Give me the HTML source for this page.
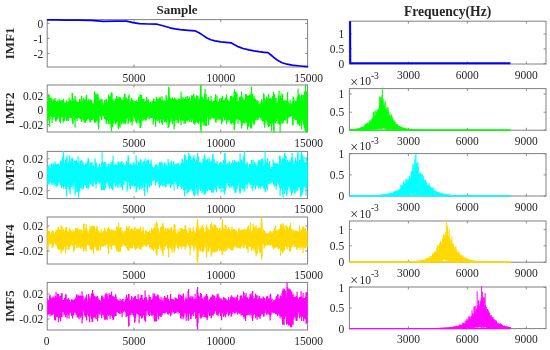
<!DOCTYPE html><html><head><meta charset="utf-8"><title>IMF</title><style>html,body{margin:0;padding:0;background:#fff}svg{display:block}text{font-family:"Liberation Serif","Times New Roman",serif;fill:#262626}</style></head><body>
<svg width="550" height="350" viewBox="0 0 550 350">
<rect width="550" height="350" fill="#fff"/>
<rect x="47.2" y="19.6" width="260.4" height="47.4" fill="none" stroke="#808080" stroke-width="1"/><path d="M134 67.0v-2.4M134 19.6v2.4M220.8 67.0v-2.4M220.8 19.6v2.4M47.2 23.4h2.4M307.6 23.4h-2.4M47.2 38.4h2.4M307.6 38.4h-2.4M47.2 53.4h2.4M307.6 53.4h-2.4" stroke="#808080" stroke-width="0.9" fill="none"/>
<clipPath id="cl0"><rect x="47.2" y="19.1" width="261" height="48.4"/></clipPath>
<path d="M47.6 19.8 L56 19.9 L65.4 20.2 L78 20.1 L90.9 20.3 L103.6 21.3 L115 21.1 L126.5 21.2 L133 22.6 L139.2 23.7 L148 24.0 L157 24.2 L163 25.8 L169.8 27.8 L175 28.9 L180.2 29.7 L188 30.4 L195.4 30.9 L199 32.8 L203.1 35.4 L206.5 37.8 L210.7 39.8 L215 40.9 L220.9 41.8 L226 42.3 L231 42.8 L234.5 44.8 L238.7 46.9 L243 48.5 L248.9 49.9 L254 50.9 L259 51.7 L264 52.3 L268 52.7 L271 55.0 L274.3 57.8 L278 60.6 L282 62.7 L287 64.2 L292.1 65.2 L300 66.0 L307.4 66.6" fill="none" stroke="#0000ff" stroke-width="1.7" stroke-linejoin="round" stroke-linecap="round"/>
 <text x="43.2" y="27.7" font-size="11.5" text-anchor="end">0</text>
 <text x="43.2" y="42.7" font-size="11.5" text-anchor="end">-1</text>
 <text x="43.2" y="57.7" font-size="11.5" text-anchor="end">-2</text>
<text x="134" y="81.5" font-size="11.5" text-anchor="middle">5000</text>
<text x="220.8" y="81.5" font-size="11.5" text-anchor="middle">10000</text>
<text x="308.6" y="81.5" font-size="11.5" text-anchor="middle">15000</text>
<text transform="translate(14.3,43.3) rotate(-90)" font-size="13" font-weight="bold" text-anchor="middle" fill="#000">IMF1</text>
<rect x="47.2" y="85.0" width="260.4" height="47" fill="none" stroke="#808080" stroke-width="1"/><path d="M134 132.0v-2.4M134 85.0v2.4M220.8 132.0v-2.4M220.8 85.0v2.4M47.2 96h2.4M307.6 96h-2.4M47.2 110h2.4M307.6 110h-2.4M47.2 124.4h2.4M307.6 124.4h-2.4" stroke="#808080" stroke-width="0.9" fill="none"/>
<clipPath id="cl1"><rect x="47.2" y="84.5" width="261" height="48"/></clipPath>
<path d="M47.6 102.22V122.56M48.1 98.8V121M48.6 93.91V119.28M49.1 94.93V119.05M49.6 100.56V126.75M50.1 97.66V118.96M50.6 97.47V115.67M51.1 97.47V115.73M51.6 103.28V116.73M52.1 99.06V123.03M52.6 102.15V119.92M53.1 103.52V117.82M53.6 99.6V116.41M54.1 99.6V116.99M54.6 103.46V116.32M55.1 97.79V116.57M55.6 100.95V121.2M56.1 101.6V121.48M56.6 106.1V119.87M57.1 101.65V115.78M57.6 100.59V119.05M58.1 102.56V113.73M58.6 102.56V117.17M59.1 98.72V116.44M59.6 100.51V122.03M60.1 105V117.21M60.6 100.43V123.19M61.1 104.17V117.62M61.6 100.62V116.63M62.1 100.33V117.06M62.6 101.65V117.56M63.1 99.81V122.8M63.6 99.12V121.35M64.1 102.44V120.99M64.6 102.57V120.6M65.1 102.79V115.57M65.6 103.82V116.76M66.1 101.62V118.17M66.6 100.44V120.89M67.1 104.76V120.7M67.6 103.91V114.58M68.1 101.38V119.25M68.6 103.3V121.1M69.1 97.54V115.44M69.6 102.4V117.71M70.1 100.45V117.86M70.6 99.89V117.46M71.1 103.78V118.2M71.6 102.37V114.89M72.1 93.07V119.63M72.6 93.07V123.73M73.1 98.66V123.73M73.6 103.39V115.78M74.1 100.86V113.78M74.6 100.4V120.1M75.1 96.01V127.73M75.6 99.47V117.41M76.1 100.38V118.37M76.6 102.64V118.88M77.1 101.85V120.97M77.6 101.44V118.07M78.1 102.03V116.47M78.6 102.09V117.9M79.1 103.35V116.44M79.6 98.87V117.78M80.1 104.99V118.92M80.6 101.19V119.2M81.1 98.96V119.35M81.6 95.74V122.05M82.1 101.48V118.78M82.6 103.34V117.8M83.1 100.24V120.23M83.6 97.78V120.45M84.1 101.45V122.79M84.6 99.49V121.58M85.1 101.48V117.67M85.6 99.35V123.01M86.1 96.25V120.96M86.6 94.9V120.33M87.1 102.28V115.7M87.6 101.38V119.15M88.1 100.45V118.72M88.6 99.21V118.88M89.1 99.47V118.09M89.6 103.48V120.72M90.1 101.27V122.6M90.6 99.28V122.6M91.1 100.7V117.91M91.6 99.93V119.91M92.1 102.71V119.93M92.6 104.09V118.4M93.1 103.42V120.18M93.6 103.95V117.5M94.1 102.44V116.76M94.6 91.58V122.69M95.1 93.81V120.24M95.6 96.47V122.44M96.1 93.97V120.99M96.6 94.73V117.76M97.1 100.18V120.86M97.6 93.87V119.55M98.1 94.58V125.7M98.6 97.4V129.25M99.1 98.8V122.72M99.6 104.7V115.72M100.1 100.92V115.82M100.6 99.42V116.29M101.1 103.27V118.9M101.6 99.08V120.02M102.1 98.98V118.43M102.6 102.65V114.76M103.1 103V115.29M103.6 105.71V116.53M104.1 105.12V115.69M104.6 100.12V118.89M105.1 102.18V119.11M105.6 102.69V119.73M106.1 98.89V123.77M106.6 99.57V123.77M107.1 101.75V120.11M107.6 101.9V119.56M108.1 101.8V120.57M108.6 94.63V124.27M109.1 97.39V120.19M109.6 97.28V118.66M110.1 96.22V123.93M110.6 97.32V122.56M111.1 93.42V127.89M111.6 92.36V131.23M112.1 93.18V122.47M112.6 99.15V127.3M113.1 100.89V124.48M113.6 101.61V122.58M114.1 101.67V116.27M114.6 100.67V119.82M115.1 98.47V124.39M115.6 99.61V123.86M116.1 103.61V123.11M116.6 95.98V122.12M117.1 96.59V119.79M117.6 102.45V121.47M118.1 99.33V127.7M118.6 97.24V128.97M119.1 97.24V126.11M119.6 97.2V124.59M120.1 98.31V127.78M120.6 97.26V121.51M121.1 99.34V121.6M121.6 101.95V124.53M122.1 100.08V121.27M122.6 101.47V119.5M123.1 96.88V123.16M123.6 99.43V123.86M124.1 99.69V123.86M124.6 94.04V121.5M125.1 93.69V122.84M125.6 97.39V123.82M126.1 102.9V121.67M126.6 98.11V118.89M127.1 100.41V117.81M127.6 99.28V118.31M128.1 100.12V124.18M128.6 95.88V122.03M129.1 94.35V121.17M129.6 102.48V118.24M130.1 103.27V116.98M130.6 101.33V122.43M131.1 99.7V120.99M131.6 97.77V121.59M132.1 99.83V125.45M132.6 99.94V119.81M133.1 100.75V121.36M133.6 100.75V114.33M134.1 100.64V115.41M134.6 102.94V117.83M135.1 102.48V118.68M135.6 101.01V121.02M136.1 102.77V122.67M136.6 100.17V123.27M137.1 101.77V123.44M137.6 101.41V120.29M138.1 101.71V116.19M138.6 96.64V118.32M139.1 103.23V123.1M139.6 99.96V123.24M140.1 93.69V128.04M140.6 95.33V128.13M141.1 97.7V126.23M141.6 95.01V119.28M142.1 99.39V121.29M142.6 99.11V116.15M143.1 102.27V118.91M143.6 98.69V120.38M144.1 99.02V117.01M144.6 102.04V119.42M145.1 104.51V116.93M145.6 101.49V120.73M146.1 100.66V119.69M146.6 97.11V119.73M147.1 102.04V118.32M147.6 99.97V116.65M148.1 102.04V116.04M148.6 99.43V116.92M149.1 105.17V119.42M149.6 102.68V119.27M150.1 104.01V115.11M150.6 101.7V117.77M151.1 106.44V117.93M151.6 104.07V117.39M152.1 100.81V117.92M152.6 103.08V118.08M153.1 101.31V124.6M153.6 98.62V121.53M154.1 98.86V117.94M154.6 101.97V119.03M155.1 101.13V118.96M155.6 101.78V126.69M156.1 100.99V118.82M156.6 96.75V119.28M157.1 99.21V120.65M157.6 99.11V121.2M158.1 101.82V121.2M158.6 99.18V117.45M159.1 97.94V119.74M159.6 97.94V123.22M160.1 96.39V119.79M160.6 98.77V119.44M161.1 100.43V118.64M161.6 101.17V123.05M162.1 96.31V120.38M162.6 101.36V124.82M163.1 99.86V114.62M163.6 103.45V118.16M164.1 101.88V121.49M164.6 100.32V121.98M165.1 100.65V121.57M165.6 101.74V120.99M166.1 95V123.2M166.6 96.14V122.01M167.1 100.32V116.15M167.6 101.24V117.98M168.1 100.79V128.1M168.6 86.83V126.32M169.1 88.17V126.64M169.6 96.63V122.73M170.1 99.31V121.96M170.6 98.34V120.6M171.1 100.79V121.54M171.6 99.16V117.83M172.1 97.55V119.11M172.6 97.55V123.63M173.1 99.07V115.99M173.6 99.07V120.65M174.1 100.37V129.29M174.6 97.63V126.01M175.1 99.43V117.56M175.6 98.6V120.3M176.1 99.19V120M176.6 100.22V117.58M177.1 104.08V123.04M177.6 99.98V120.17M178.1 98.25V120.17M178.6 98.83V123.21M179.1 98.93V115.85M179.6 98.96V117.86M180.1 99.62V119.61M180.6 101.94V120.72M181.1 91.68V125.24M181.6 96.53V117.97M182.1 97.03V120.46M182.6 104.76V116.48M183.1 99.17V120.71M183.6 97.45V120.79M184.1 101.09V123.9M184.6 98.91V121.41M185.1 99.28V119.66M185.6 96.9V123.46M186.1 96.9V117.05M186.6 99.23V120.69M187.1 99.23V118.93M187.6 95.96V121.57M188.1 98.87V118.47M188.6 98.96V120.05M189.1 101.21V119.73M189.6 96.54V121.7M190.1 101.39V117.2M190.6 101.03V115.01M191.1 102.9V121.98M191.6 95.23V121.98M192.1 100.29V120.49M192.6 96.06V119.44M193.1 95.24V114.7M193.6 93.87V123.62M194.1 96.27V123.62M194.6 97.64V124.78M195.1 100.24V123.45M195.6 98.82V120.29M196.1 98.12V122.48M196.6 95.16V121.86M197.1 98.19V119.71M197.6 95.96V122.86M198.1 96.52V122.83M198.6 100.79V123.76M199.1 102.81V122.66M199.6 98.67V118.9M200.1 94.89V121.23M200.6 85.37V129.58M201.1 84.44V132.72M201.6 95.9V122.53M202.1 96.68V118.94M202.6 97.62V122.01M203.1 98.62V125.69M203.6 100.38V122.27M204.1 98.81V122.41M204.6 93.59V124.61M205.1 88.99V126.03M205.6 94.36V125.45M206.1 94.36V123.91M206.6 99.2V126.02M207.1 99.2V118.54M207.6 99.35V116.09M208.1 101.78V114.42M208.6 97.11V124.93M209.1 100.64V117.26M209.6 104.58V117.81M210.1 101.03V120.11M210.6 103.31V115.58M211.1 95.73V118.98M211.6 100.36V116.14M212.1 101.85V116.44M212.6 104.9V118.08M213.1 102.26V117.96M213.6 100.93V118.49M214.1 101.04V118.12M214.6 105.44V118.73M215.1 98.12V118.09M215.6 94.2V122.13M216.1 100.48V122.64M216.6 101.89V120.22M217.1 95.38V118.07M217.6 103.06V118.33M218.1 102.05V120.62M218.6 104.58V117.71M219.1 100.88V118.17M219.6 98.88V119.11M220.1 97.68V119.99M220.6 105.15V119.06M221.1 101.03V118.22M221.6 97.99V124.16M222.1 102.1V120.45M222.6 95.7V122.27M223.1 99.85V116.65M223.6 100.48V117.08M224.1 101.15V117.55M224.6 99.75V120.56M225.1 101.57V117.88M225.6 97.81V116.33M226.1 98.68V119.7M226.6 94.87V124.19M227.1 99.09V120.69M227.6 100.05V119.35M228.1 100.14V121.79M228.6 101V115.63M229.1 101.93V119.9M229.6 102.64V117.4M230.1 98.82V119.58M230.6 96.2V123.55M231.1 95.68V124.32M231.6 95.68V123.08M232.1 99.08V120.01M232.6 97.93V122.26M233.1 97.19V122.94M233.6 96.96V123.44M234.1 91.66V130.32M234.6 89.13V128.73M235.1 91.99V124.16M235.6 96.86V120.71M236.1 92.08V118.39M236.6 97.62V119.6M237.1 93.46V118.89M237.6 101.31V115M238.1 100.99V123.91M238.6 103.17V119.7M239.1 100.48V117.84M239.6 96.93V120.05M240.1 99.16V118.55M240.6 96.41V120.69M241.1 96.41V122.41M241.6 91.53V128.53M242.1 98.05V125.57M242.6 97.58V118.81M243.1 97.58V123.18M243.6 100.46V117.37M244.1 99.76V122.74M244.6 101.83V123.87M245.1 99.73V121.18M245.6 94.07V121.18M246.1 93.92V123.09M246.6 95.33V121.16M247.1 95.71V122.01M247.6 95.49V129.87M248.1 95.73V126.81M248.6 98.66V118.39M249.1 95.17V126.52M249.6 94.79V121.56M250.1 94.68V122.41M250.6 98.38V128.19M251.1 92.18V128.38M251.6 86.8V128.38M252.1 94.01V118.51M252.6 94.01V120.63M253.1 97.67V123.69M253.6 98.17V123.36M254.1 96.09V125.11M254.6 98.46V123.61M255.1 98.71V119.33M255.6 99.02V120.16M256.1 100.04V118.62M256.6 102.14V117.26M257.1 101.82V119.89M257.6 100.1V119.89M258.1 101.06V119.74M258.6 104.22V117.89M259.1 103.83V116.94M259.6 104.5V116.94M260.1 105.96V117.09M260.6 103.16V118.32M261.1 101.53V120.02M261.6 99.24V117.95M262.1 100.13V117.77M262.6 102.65V121.57M263.1 104.79V121.58M263.6 93.36V120.81M264.1 94.27V124.29M264.6 98.62V127.76M265.1 98.98V123.65M265.6 100.67V116.92M266.1 103.75V119.95M266.6 96.51V119.75M267.1 98.54V124.79M267.6 98.43V122.41M268.1 100.02V118.88M268.6 93.97V126.98M269.1 97.84V120.96M269.6 100.42V125.9M270.1 98.69V122.73M270.6 98.29V123.72M271.1 97.4V122.37M271.6 99.43V130.88M272.1 99.86V121.38M272.6 95.94V122.96M273.1 98.63V123.54M273.6 91.78V130.81M274.1 97.8V135.31M274.6 94.22V119.15M275.1 102.53V121.41M275.6 97.68V123.39M276.1 97.91V118.98M276.6 102.92V121M277.1 103.18V118.86M277.6 102.6V117.11M278.1 101.07V123.96M278.6 95.38V123.96M279.1 90.81V119.36M279.6 98.75V124.59M280.1 99.73V132.94M280.6 95.92V124.52M281.1 93.27V121.38M281.6 99.94V120.96M282.1 97.89V123.01M282.6 94.19V123.56M283.1 100.61V123.8M283.6 102.02V120.84M284.1 100.41V119.68M284.6 101.3V119.91M285.1 100.32V116.21M285.6 105.67V120.41M286.1 100.34V118.12M286.6 103.19V118.43M287.1 100.17V123.68M287.6 92.06V123.23M288.1 101.23V118.07M288.6 102.57V116.57M289.1 104.62V116.96M289.6 104.84V116.52M290.1 100.06V117.31M290.6 103.85V116.33M291.1 103.35V115.89M291.6 103.26V115.6M292.1 103.15V116.69M292.6 102.03V125.36M293.1 96.6V125.36M293.6 98.12V118.52M294.1 99.7V119.48M294.6 102.95V118.21M295.1 102.95V118.21M295.6 100.74V120.03M296.1 101.14V118.41M296.6 101.14V120.49M297.1 97.11V119.06M297.6 96.67V124.51M298.1 88.65V122.86M298.6 99.82V124M299.1 93.95V122.72M299.6 99.79V125.88M300.1 95.86V121.04M300.6 100.42V119.39M301.1 100.3V125.24M301.6 94.4V129.4M302.1 98.82V120.05M302.6 100.22V117.79M303.1 94.9V121.49M303.6 100.02V124.85M304.1 94.79V127.23M304.6 91.55V128.09M305.1 94.56V131.34M305.6 84V122.52M306.1 94.03V132.38M306.6 91.14V134.77M307.1 97.89V130.94" fill="none" stroke="#00ff00" stroke-width="1.2" clip-path="url(#cl1)"/>
 <text x="43.2" y="100.3" font-size="11.5" text-anchor="end">0.02</text>
 <text x="43.2" y="114.3" font-size="11.5" text-anchor="end">0</text>
 <text x="43.2" y="128.7" font-size="11.5" text-anchor="end">-0.02</text>
<text x="134" y="146.5" font-size="11.5" text-anchor="middle">5000</text>
<text x="220.8" y="146.5" font-size="11.5" text-anchor="middle">10000</text>
<text x="308.6" y="146.5" font-size="11.5" text-anchor="middle">15000</text>
<text transform="translate(14.3,108.5) rotate(-90)" font-size="13" font-weight="bold" text-anchor="middle" fill="#000">IMF2</text>
<rect x="47.2" y="151.4" width="260.4" height="47.2" fill="none" stroke="#808080" stroke-width="1"/><path d="M134 198.6v-2.4M134 151.4v2.4M220.8 198.6v-2.4M220.8 151.4v2.4M47.2 158.8h2.4M307.6 158.8h-2.4M47.2 174.8h2.4M307.6 174.8h-2.4M47.2 190.6h2.4M307.6 190.6h-2.4" stroke="#808080" stroke-width="0.9" fill="none"/>
<clipPath id="cl2"><rect x="47.2" y="150.9" width="261" height="48.2"/></clipPath>
<path d="M47.6 167.93V184.22M48.1 165.45V181.13M48.6 165.38V184.49M49.1 164.79V184.61M49.6 167.5V182.46M50.1 169.56V181.31M50.6 167.82V181.4M51.1 164.08V183.34M51.6 164.08V183.42M52.1 163.18V185.05M52.6 166.33V182.88M53.1 165.82V180.38M53.6 163.2V183.46M54.1 164.67V185.27M54.6 165.31V182.74M55.1 161.57V184.35M55.6 164.33V180.43M56.1 164.16V187.53M56.6 164.33V183.3M57.1 165.26V185.5M57.6 163.7V186.06M58.1 164.06V183.83M58.6 164.06V183.14M59.1 165.99V182.35M59.6 170.16V180.56M60.1 164.95V184.7M60.6 160.85V184.06M61.1 161.22V185.49M61.6 162.98V188.34M62.1 159.64V185.9M62.6 157.12V186.48M63.1 156.75V186.45M63.6 147.33V188.7M64.1 163.2V186.17M64.6 168.01V182.96M65.1 163.92V185.35M65.6 160.01V188.92M66.1 157.76V188.47M66.6 161.43V196.5M67.1 155.39V185.78M67.6 166.19V183.03M68.1 162.45V187.02M68.6 166.51V181.56M69.1 160.19V189.49M69.6 155.45V191.27M70.1 160.14V194.28M70.6 161.57V187.35M71.1 162.25V187.42M71.6 158.22V186.65M72.1 161.53V184.48M72.6 157.79V183.06M73.1 162.88V189.56M73.6 166.66V184.95M74.1 160.55V182.76M74.6 161.05V182.82M75.1 161.05V195.56M75.6 161V189.1M76.1 162.02V192.18M76.6 160.18V187.31M77.1 161.62V186.8M77.6 165.25V192.05M78.1 156.12V192.05M78.6 162.84V197.95M79.1 164.81V190.34M79.6 166.71V191.39M80.1 160.71V187.42M80.6 164.38V186.33M81.1 160.46V188.36M81.6 160.18V184.77M82.1 160.86V189.43M82.6 171.05V181.12M83.1 162.66V184.12M83.6 165.84V189.35M84.1 165.2V184.95M84.6 166.41V183.19M85.1 165.13V185.82M85.6 163.45V185.18M86.1 164.3V181.91M86.6 167.57V187.98M87.1 161.72V187.83M87.6 165.42V186.79M88.1 157.91V189.24M88.6 158.95V187.54M89.1 161.71V187.32M89.6 167.93V182.37M90.1 167.49V182.43M90.6 162.61V184.59M91.1 163.18V183.36M91.6 163.72V183.11M92.1 162.02V186.17M92.6 166.69V186.17M93.1 165.67V186.76M93.6 165.57V182.65M94.1 169V181.4M94.6 168V181.47M95.1 158.32V181.87M95.6 161.43V184.28M96.1 162.59V188.29M96.6 164.29V184M97.1 166.1V180.98M97.6 168.29V182.49M98.1 169.6V181.84M98.6 167.28V181.48M99.1 165.4V183.96M99.6 163.44V182.3M100.1 166.72V181.37M100.6 167.07V183.23M101.1 167.37V187.79M101.6 162.69V190.16M102.1 152.13V190.16M102.6 161.08V188.29M103.1 166.01V187.36M103.6 163.02V190.36M104.1 166.68V190.35M104.6 162.03V190.35M105.1 162.19V187.71M105.6 162.94V188.32M106.1 164.64V182.27M106.6 170.37V183.33M107.1 166.97V181.41M107.6 168.61V182.28M108.1 164.09V184.47M108.6 163.49V186.25M109.1 168.51V186.85M109.6 166.17V188.83M110.1 163.95V186.34M110.6 165.98V184.68M111.1 161.9V187.42M111.6 162.92V188.8M112.1 166.23V188.8M112.6 160.66V190.13M113.1 155.81V189.2M113.6 164.68V183.23M114.1 164.97V182.9M114.6 167.97V182.89M115.1 163.53V184.34M115.6 165.72V186.95M116.1 164.63V182.87M116.6 164.95V185.27M117.1 166.46V183.7M117.6 164.73V186.41M118.1 161.47V188.27M118.6 161.47V183.71M119.1 162.3V183.42M119.6 163.48V182.44M120.1 164.46V187.25M120.6 162.85V180.23M121.1 162.26V182.89M121.6 161.17V187.1M122.1 161.57V187.23M122.6 163.9V190.14M123.1 164.57V185.08M123.6 163.23V182.35M124.1 164.95V184.78M124.6 164.95V181.23M125.1 166.27V180.61M125.6 167.45V181.26M126.1 164.16V181.37M126.6 160.79V180.98M127.1 164.94V191.62M127.6 162.72V189.18M128.1 155.05V182.65M128.6 157.21V182.42M129.1 167.24V181.06M129.6 164.86V185.83M130.1 166.65V188.78M130.6 163.21V189.24M131.1 164.56V186.26M131.6 165.11V184.36M132.1 165.78V183.13M132.6 165.44V186.04M133.1 163.05V185.21M133.6 164.75V185.21M134.1 162.07V187.22M134.6 164.62V186.46M135.1 164.35V186.07M135.6 164.23V186.38M136.1 155.21V192.51M136.6 159.96V191.79M137.1 165.66V183.76M137.6 166.65V187.17M138.1 165.07V184.28M138.6 161.54V182.96M139.1 162.19V187.75M139.6 163.18V189.74M140.1 163.77V184.01M140.6 159.17V187.5M141.1 159.17V189.2M141.6 168.13V183.47M142.1 164.65V185.42M142.6 162.84V187.95M143.1 161.14V183.13M143.6 169.37V182.75M144.1 162.24V191.32M144.6 161.08V196.06M145.1 158.75V187.44M145.6 163.27V183.92M146.1 167.33V182.03M146.6 161.73V183.31M147.1 160.34V189.55M147.6 160.34V192.58M148.1 159.54V186.6M148.6 159.54V185.78M149.1 163.63V183.67M149.6 165.98V187.16M150.1 163.92V183.12M150.6 163.15V181.98M151.1 159.6V185.23M151.6 163.68V185.89M152.1 166.81V180.61M152.6 166.82V180.88M153.1 168.66V180.28M153.6 167.46V180.44M154.1 167.44V179.39M154.6 167.3V179.05M155.1 165.22V180.07M155.6 164.98V185.38M156.1 163.38V182.99M156.6 165.01V181.34M157.1 168.6V181.34M157.6 166.12V181.83M158.1 168.7V180.79M158.6 168.91V183.66M159.1 164.8V186.6M159.6 162.09V187.72M160.1 164.52V185.63M160.6 162.97V184.53M161.1 161.47V184.77M161.6 167.35V184.55M162.1 162.54V186.27M162.6 164.16V186.27M163.1 166.29V182.14M163.6 166.92V179.73M164.1 166.77V186.17M164.6 162.47V181.82M165.1 165.24V185.39M165.6 168.06V187.32M166.1 163.29V187.28M166.6 166V182.78M167.1 166.8V183.71M167.6 167.28V181.96M168.1 159V184.54M168.6 161.89V184.11M169.1 163.52V183.25M169.6 168.25V179.53M170.1 165.68V186.38M170.6 165.65V188.07M171.1 160.82V186.26M171.6 161.87V184.08M172.1 168.22V184.83M172.6 165.34V182.05M173.1 164.98V184.37M173.6 161.26V181.86M174.1 163.67V190.51M174.6 165.38V181.05M175.1 168.22V181.7M175.6 164.59V181.61M176.1 163.37V184.86M176.6 165.49V184.18M177.1 164.47V183.8M177.6 163.51V189.14M178.1 162.88V186.09M178.6 165.25V186.09M179.1 167.95V180.97M179.6 165.65V184.28M180.1 163.74V187.25M180.6 164.82V181.87M181.1 165.57V182.27M181.6 163.02V189.08M182.1 158.45V187.72M182.6 160.03V183.46M183.1 162.98V187.35M183.6 162.98V189.89M184.1 161.6V189.89M184.6 154.35V196.17M185.1 159.36V189.72M185.6 155.44V190.2M186.1 160.93V188.58M186.6 160.06V187.92M187.1 163.06V193.75M187.6 163.61V192.93M188.1 159.48V189.18M188.6 152.7V191.93M189.1 154.46V191.16M189.6 163.32V184.47M190.1 155.59V189.38M190.6 155.59V189.83M191.1 165.65V184.39M191.6 160.27V187.87M192.1 158.66V191.47M192.6 162.3V191.47M193.1 157.52V189.39M193.6 161.82V195.26M194.1 155.13V191.06M194.6 158.56V196.32M195.1 161.95V194.34M195.6 168.54V181.72M196.1 160.89V183.75M196.6 159.92V189.46M197.1 158.11V193.65M197.6 152.85V187.88M198.1 156.81V195.74M198.6 156.47V189.66M199.1 163.82V189.36M199.6 162.03V181.27M200.1 163.32V185.24M200.6 162.57V191M201.1 164.9V185.44M201.6 164.26V188.89M202.1 162.32V192.98M202.6 162.2V191.38M203.1 159.01V191.38M203.6 159.27V183.54M204.1 156.34V194.67M204.6 154.26V194.67M205.1 158.08V189.9M205.6 161.76V193.8M206.1 160.64V190.33M206.6 160.04V184.96M207.1 162.46V191.44M207.6 158.85V191.25M208.1 164.32V187.11M208.6 161.19V189.23M209.1 157.15V189.23M209.6 162.14V190.2M210.1 160.68V187.61M210.6 163.16V190.11M211.1 162.84V189.28M211.6 161.81V192.78M212.1 159.46V191.87M212.6 153.82V192.59M213.1 154.83V190.35M213.6 163.9V192.81M214.1 158.74V186.71M214.6 162.67V184.51M215.1 163.3V190.11M215.6 165.08V188.37M216.1 162.61V188.52M216.6 165.66V192.16M217.1 160.91V186.41M217.6 164.28V180.78M218.1 164.28V184.24M218.6 166.33V186.44M219.1 168.53V188.43M219.6 162.65V182.88M220.1 165.35V189.01M220.6 161.77V186.9M221.1 162.55V192.61M221.6 163.62V186.15M222.1 163.19V185.17M222.6 165.6V187.89M223.1 164.67V192.4M223.6 159.88V184.12M224.1 159.62V188.5M224.6 153.17V194.59M225.1 153.17V191.1M225.6 159.8V189.63M226.1 167.3V187.78M226.6 164.53V180.54M227.1 164.02V183.42M227.6 165.27V180.04M228.1 162.78V183.95M228.6 162.52V186.27M229.1 161.14V186.27M229.6 162.44V187.75M230.1 167.85V187.75M230.6 164.85V181.73M231.1 167.65V183M231.6 163V187.41M232.1 161.48V186.57M232.6 160.29V185.21M233.1 164.8V182.45M233.6 162.99V187.13M234.1 164.12V190.49M234.6 159.87V190.49M235.1 160.9V192.99M235.6 165.77V187.94M236.1 161.9V192.42M236.6 165.38V182.35M237.1 162.29V188.83M237.6 167.79V185.77M238.1 161.12V184.62M238.6 167.01V183.01M239.1 162.14V183.18M239.6 162.14V192.55M240.1 153.29V193.78M240.6 159.79V192.23M241.1 159.78V187.61M241.6 159.6V187.2M242.1 164.07V184.02M242.6 165.97V189.15M243.1 160.3V188.54M243.6 156.78V186.02M244.1 154.8V191.87M244.6 150.19V190.59M245.1 166.78V189.28M245.6 164.33V181.84M246.1 163.83V183.41M246.6 164.41V185.4M247.1 161.76V188.82M247.6 164.33V184.02M248.1 171.58V181.99M248.6 167.88V181.19M249.1 166.77V183.37M249.6 164.1V183.49M250.1 163.77V184.18M250.6 163.66V183.69M251.1 167.86V188.11M251.6 160.04V185.11M252.1 163.88V184.05M252.6 165.67V190.86M253.1 159.5V184.93M253.6 164.4V186.16M254.1 167.52V183.93M254.6 161.88V183.71M255.1 162.92V187.96M255.6 165.79V189.43M256.1 164.37V180.94M256.6 166.54V185.65M257.1 166.54V185.09M257.6 165.45V185.59M258.1 160.59V186.63M258.6 160.29V188.14M259.1 163.35V188.45M259.6 160.6V186.27M260.1 159.81V185.9M260.6 161.44V188.48M261.1 161.25V185.84M261.6 158.68V186.49M262.1 164.06V186.3M262.6 158.8V185.68M263.1 161.29V185.61M263.6 165.71V187.78M264.1 167.52V188.95M264.6 164.04V184.12M265.1 151.36V191.37M265.6 159.64V192.19M266.1 162.15V188M266.6 163.17V187.64M267.1 162.11V188.39M267.6 157.97V190.22M268.1 163.65V183.77M268.6 167.82V182.88M269.1 164.88V183.89M269.6 161.34V182.54M270.1 169.02V184.28M270.6 168.97V181.17M271.1 168.98V180.4M271.6 166.83V183.37M272.1 170.49V181.8M272.6 166.57V181.99M273.1 159.49V180.3M273.6 162.58V184.35M274.1 162.84V185.7M274.6 165.21V186.58M275.1 162.76V185.14M275.6 163.42V185.26M276.1 164.42V189.38M276.6 163.3V186.48M277.1 163.32V179.95M277.6 163.85V182.3M278.1 164.8V183.79M278.6 165.54V184.49M279.1 164.24V184.55M279.6 155.73V187M280.1 155.38V195.64M280.6 158.82V190.42M281.1 160.73V185.79M281.6 163.14V188.22M282.1 163.6V188.53M282.6 158.51V194.35M283.1 157.53V200.1M283.6 158.42V186.37M284.1 161.15V186.29M284.6 152.73V193.83M285.1 154.76V189.58M285.6 156.68V186.12M286.1 156.24V190.16M286.6 162.87V195.69M287.1 165.63V193.93M287.6 159.9V189.95M288.1 162.92V186.35M288.6 162.12V186.63M289.1 162.99V186.86M289.6 161.28V187.77M290.1 159.46V191.95M290.6 161.33V187.27M291.1 163.84V187.74M291.6 157.65V195.52M292.1 152.66V192.91M292.6 156.95V192.91M293.1 164.7V187.94M293.6 166.05V189.67M294.1 161.46V188.65M294.6 164.61V193.51M295.1 163.99V193.62M295.6 157.66V190.31M296.1 164.07V191.3M296.6 160.78V189.4M297.1 163.84V188.64M297.6 153.55V190.9M298.1 151.32V188.03M298.6 162.89V186.1M299.1 164.26V186.92M299.6 159.92V187.74M300.1 159.92V187.09M300.6 161.09V196.79M301.1 153.03V196.79M301.6 151.89V189.11M302.1 155.86V194.85M302.6 154.91V192.41M303.1 160.85V190.56M303.6 159.74V186.33M304.1 156.46V187.32M304.6 162.39V185.76M305.1 162.79V185.36M305.6 165.11V188.44M306.1 162.05V195.49M306.6 156.77V187.6M307.1 160.43V187.6" fill="none" stroke="#00ffff" stroke-width="1.2" clip-path="url(#cl2)"/>
 <text x="43.2" y="163.1" font-size="11.5" text-anchor="end">0.02</text>
 <text x="43.2" y="179.1" font-size="11.5" text-anchor="end">0</text>
 <text x="43.2" y="194.9" font-size="11.5" text-anchor="end">-0.02</text>
<text x="134" y="213.1" font-size="11.5" text-anchor="middle">5000</text>
<text x="220.8" y="213.1" font-size="11.5" text-anchor="middle">10000</text>
<text x="308.6" y="213.1" font-size="11.5" text-anchor="middle">15000</text>
<text transform="translate(14.3,175) rotate(-90)" font-size="13" font-weight="bold" text-anchor="middle" fill="#000">IMF3</text>
<rect x="47.2" y="217.0" width="260.4" height="47" fill="none" stroke="#808080" stroke-width="1"/><path d="M134 264.0v-2.4M134 217.0v2.4M220.8 264.0v-2.4M220.8 217.0v2.4M47.2 226h2.4M307.6 226h-2.4M47.2 238.6h2.4M307.6 238.6h-2.4M47.2 251h2.4M307.6 251h-2.4" stroke="#808080" stroke-width="0.9" fill="none"/>
<clipPath id="cl3"><rect x="47.2" y="216.5" width="261" height="48"/></clipPath>
<path d="M47.6 227.98V249.4M48.1 231.24V250.06M48.6 231.02V245.55M49.1 233.67V244.18M49.6 230.78V241.77M50.1 235.47V241.39M50.6 234.59V244.37M51.1 234.03V242.1M51.6 232.34V243.66M52.1 230.66V247.87M52.6 232.94V243.69M53.1 230.36V247.49M53.6 233.41V244.78M54.1 234.5V241.43M54.6 234.88V242.49M55.1 232.68V242.19M55.6 231.97V243.95M56.1 229.9V245.88M56.6 231.79V244.66M57.1 229.71V244.75M57.6 231.44V248.04M58.1 227.56V249.28M58.6 227V248.5M59.1 229.8V250.08M59.6 230.58V249.8M60.1 229.42V248.94M60.6 230.47V247.26M61.1 224.94V253.67M61.6 231.42V251.49M62.1 226.79V251.49M62.6 229.63V250.15M63.1 231.16V248.76M63.6 228.94V249.67M64.1 230.95V246.97M64.6 230.95V245M65.1 231.14V246.7M65.6 227.49V253.44M66.1 229.41V250.27M66.6 227.07V246.07M67.1 232.34V244.88M67.6 231.26V245.4M68.1 231.81V249.53M68.6 233.05V245.74M69.1 229.59V249.95M69.6 227.68V245.31M70.1 229.23V246.81M70.6 231.31V244.37M71.1 230.44V245.2M71.6 231.32V244.15M72.1 231.99V242.34M72.6 232.16V245.45M73.1 229.44V246.37M73.6 232.47V252.11M74.1 232.05V247.32M74.6 231.03V250.01M75.1 232.06V244.63M75.6 227.78V243.89M76.1 230.3V244.39M76.6 228.17V247.71M77.1 231.57V244.13M77.6 229.02V247.53M78.1 228.01V245.19M78.6 233.11V244.87M79.1 230.93V248M79.6 229.39V246M80.1 230.26V246.52M80.6 232.37V248.42M81.1 229.43V248.95M81.6 230.22V246.68M82.1 229.93V246.71M82.6 233.76V247.33M83.1 233.79V247.76M83.6 223.42V251.13M84.1 223.66V250.98M84.6 231.62V247.99M85.1 231.01V244.84M85.6 227.94V249.42M86.1 223.95V251.39M86.6 228.37V246.06M87.1 229.5V244.17M87.6 232.28V244.43M88.1 231.49V243.23M88.6 233.67V245.54M89.1 233.03V245.49M89.6 229.77V245.2M90.1 225.84V249.56M90.6 228.78V249.2M91.1 227.3V249.5M91.6 227.4V250.15M92.1 225.87V250.21M92.6 225.87V249.31M93.1 225.65V245.06M93.6 225.66V253.65M94.1 229.28V245.82M94.6 226.48V246.61M95.1 229.01V246.87M95.6 234.66V246.85M96.1 231.54V249.16M96.6 227.14V248.96M97.1 225.62V251.19M97.6 229.34V249.74M98.1 230.36V249M98.6 231.36V250.67M99.1 231.36V246.57M99.6 232.81V245.74M100.1 233.81V242.22M100.6 233.45V250.6M101.1 228.79V247.33M101.6 233.33V245.72M102.1 231.6V243.68M102.6 234V246.3M103.1 233.09V246.37M103.6 231.26V246.99M104.1 230.72V245.52M104.6 227.82V245.84M105.1 229.72V245.79M105.6 231.48V245.87M106.1 232.74V244.08M106.6 232.81V244.24M107.1 231.44V244.59M107.6 228.78V245.12M108.1 228.26V249.16M108.6 227.04V254.27M109.1 230.45V246.95M109.6 229.01V244.36M110.1 232.83V243.94M110.6 231.49V246.09M111.1 229.42V249.15M111.6 229.57V249.15M112.1 231.49V245.93M112.6 230.25V245.71M113.1 229.83V245.01M113.6 234.02V245.2M114.1 231.17V243.97M114.6 230.56V243.97M115.1 230.43V246.31M115.6 230.15V243.05M116.1 230.15V248.35M116.6 226.22V249.8M117.1 227.05V251.91M117.6 230.86V250.05M118.1 230.09V246.1M118.6 222.55V252M119.1 228.59V249.75M119.6 228.85V251.42M120.1 227.61V250.35M120.6 229.01V251.58M121.1 227.35V245.93M121.6 231.78V246.9M122.1 230.57V246.55M122.6 232.61V244.54M123.1 232.53V243.84M123.6 234.6V242.91M124.1 230.77V246.02M124.6 233.85V242.95M125.1 231.26V245.81M125.6 232.96V246.01M126.1 230.35V246.13M126.6 225.88V247.96M127.1 228.64V246.18M127.6 227.79V249.9M128.1 228.16V249.85M128.6 227.47V250.66M129.1 226V250.82M129.6 230.24V244.98M130.1 230.71V247.99M130.6 229.33V246.39M131.1 229.8V248.5M131.6 228.15V246.67M132.1 228.62V248.34M132.6 234.53V247.98M133.1 229.12V244.95M133.6 233.57V244.95M134.1 231.53V245.08M134.6 227.99V247.85M135.1 226.73V250.1M135.6 231.72V248.16M136.1 231.39V249.24M136.6 229.24V244.37M137.1 228.59V248.14M137.6 230.17V248.14M138.1 228.66V247.71M138.6 229.05V245.44M139.1 230.12V246.15M139.6 230.21V248.93M140.1 228.24V247.52M140.6 226.48V249.27M141.1 232.71V249.66M141.6 233.6V243.92M142.1 230.93V246.63M142.6 230.93V246.83M143.1 226.72V246.83M143.6 230.49V244.21M144.1 234.22V244.47M144.6 234.19V245.24M145.1 233.46V242.43M145.6 230.63V245.88M146.1 230.1V246.79M146.6 232.37V245.16M147.1 232.97V245.16M147.6 232.03V243.61M148.1 231.54V244.91M148.6 232.94V242.54M149.1 231.6V245.06M149.6 230.53V247.68M150.1 233.55V244.43M150.6 232.98V246.98M151.1 233.99V249.25M151.6 227.93V245.16M152.1 228.88V248.7M152.6 230.4V249.54M153.1 230.45V249.54M153.6 228.5V251.34M154.1 227.69V247.75M154.6 227.7V247.73M155.1 223.61V248.92M155.6 229.83V248.48M156.1 228.17V253.32M156.6 221.17V255.61M157.1 223.53V255.61M157.6 227.68V248.09M158.1 227.92V248.98M158.6 230.89V248.97M159.1 232.93V246.09M159.6 232.7V244.07M160.1 231.56V244.44M160.6 227.36V248.29M161.1 226.74V250.68M161.6 229.9V245.65M162.1 226.11V247.51M162.6 222.96V252.99M163.1 223.15V256.1M163.6 226.63V247.34M164.1 231V250.28M164.6 230.63V243.53M165.1 229.31V246.6M165.6 227.96V246.97M166.1 232.82V243.74M166.6 232.15V245.03M167.1 229.11V245.65M167.6 228.07V248.22M168.1 227.74V249.49M168.6 229.92V257.42M169.1 232.2V247.41M169.6 229.56V246.8M170.1 227.83V247.87M170.6 229.24V247.8M171.1 230V249.84M171.6 227.27V248.56M172.1 232.18V252.68M172.6 231.68V245.07M173.1 230.59V243.9M173.6 229.65V248.5M174.1 223.96V252.71M174.6 223.96V250.88M175.1 225.32V248.25M175.6 230.25V243.94M176.1 233.44V245.81M176.6 233.36V244.63M177.1 233.81V242.84M177.6 233.83V247.81M178.1 229.82V247.34M178.6 233.71V249.47M179.1 231.67V245.41M179.6 231.67V245.77M180.1 228.02V246.79M180.6 232.96V246.27M181.1 230.66V246.87M181.6 228.31V248.55M182.1 228.33V246.75M182.6 233.68V242.59M183.1 229.22V246.29M183.6 234.63V244.93M184.1 229.56V246.45M184.6 229.16V245.96M185.1 225.09V249.74M185.6 225.98V245.27M186.1 233.7V247.15M186.6 229.59V245.32M187.1 232.18V245.09M187.6 234.37V241.91M188.1 233.24V242.53M188.6 233.05V245.8M189.1 227.74V243.48M189.6 230.83V247.25M190.1 231.09V255.23M190.6 227.92V249.17M191.1 233.33V243.7M191.6 231.43V244.51M192.1 231.43V245.64M192.6 232.65V246.15M193.1 227.13V246.31M193.6 230.28V248.78M194.1 231.17V250.9M194.6 231.44V245.19M195.1 232.76V246.35M195.6 232.44V245.66M196.1 233.15V248.78M196.6 227.78V247.96M197.1 221.9V260.68M197.6 219.22V264.23M198.1 224.74V256.94M198.6 229.06V250.23M199.1 232.39V244.77M199.6 230.07V249.05M200.1 228.74V251.36M200.6 228.42V250.3M201.1 225.85V251.55M201.6 230.58V246.33M202.1 228.68V246.59M202.6 225.26V252.27M203.1 227.15V251.92M203.6 228.8V243.83M204.1 231.9V250.71M204.6 233.46V245.45M205.1 232.45V246.78M205.6 231.35V245.52M206.1 227.26V248.84M206.6 224.73V257.13M207.1 227.02V252.62M207.6 229.05V245.14M208.1 229.74V245.76M208.6 228.73V251.68M209.1 230.67V249.4M209.6 232.06V248.1M210.1 230.49V246.18M210.6 224.17V247.1M211.1 226.4V256.49M211.6 222.38V254.71M212.1 226.06V252.92M212.6 228.63V251.17M213.1 231.04V247.14M213.6 227.84V251.93M214.1 224.11V251.89M214.6 231.05V252.39M215.1 225.02V251.42M215.6 225.08V248.96M216.1 226.38V252.26M216.6 227.98V249.68M217.1 228.09V251.31M217.6 228.38V250.3M218.1 230.85V247.47M218.6 230.2V245.9M219.1 230.2V249.07M219.6 227.78V251.12M220.1 227.78V249.62M220.6 230.14V246.15M221.1 230.34V250.69M221.6 232.63V248.1M222.1 222.36V255.14M222.6 219.29V254.49M223.1 226.9V250.76M223.6 231.17V251.24M224.1 228.99V246.2M224.6 232.45V249M225.1 225.14V251.8M225.6 227.31V249.2M226.1 225.07V250.73M226.6 229.52V249.67M227.1 232.84V249.23M227.6 229.58V246.8M228.1 228.62V245.84M228.6 226.95V248.27M229.1 232.26V245.38M229.6 229.01V248.57M230.1 231.14V247.78M230.6 231.41V249.71M231.1 230.59V244.92M231.6 228.84V249.73M232.1 226.69V250.74M232.6 229.95V250.5M233.1 229.86V246.77M233.6 228.93V248.52M234.1 229.31V245.77M234.6 231.49V246.57M235.1 229.75V243.85M235.6 231.14V245.57M236.1 230.23V247.86M236.6 233.89V246.65M237.1 231.82V245.79M237.6 233.24V247.63M238.1 234.25V243.21M238.6 229.49V247.62M239.1 227.73V248.39M239.6 231.09V248.39M240.1 230.26V246.05M240.6 230.44V248.87M241.1 230.92V246.23M241.6 229.43V246.17M242.1 233.64V245.83M242.6 229.47V245.79M243.1 231.25V248.31M243.6 229.6V246.99M244.1 233.84V247.43M244.6 228.79V245.34M245.1 230.47V245.32M245.6 232.03V244.87M246.1 229.27V245.19M246.6 229.27V248.47M247.1 229.98V249.18M247.6 226.99V249.31M248.1 226.64V252.49M248.6 225.59V244.93M249.1 230.65V246.25M249.6 231.89V247.07M250.1 228.9V245.99M250.6 222.6V246.91M251.1 231.1V244.87M251.6 232.76V251M252.1 233.14V248.39M252.6 229.68V248.8M253.1 223.81V247.08M253.6 228.71V247.95M254.1 226.59V250.92M254.6 229.98V242.88M255.1 228.67V248.8M255.6 227.02V252.48M256.1 225.31V256.45M256.6 228.75V253.75M257.1 229.29V254.26M257.6 229.67V248.69M258.1 228.05V245.49M258.6 231.24V245.58M259.1 227.26V249.34M259.6 229.37V250.58M260.1 228.58V253.34M260.6 231.03V248.42M261.1 222.5V253.81M261.6 216.1V259.85M262.1 222.5V256.91M262.6 231.93V243.48M263.1 232.95V243.76M263.6 229.45V243.76M264.1 231.48V248.59M264.6 230.81V244.51M265.1 233.21V246.26M265.6 233.55V244.33M266.1 232.81V246.08M266.6 233.6V243.34M267.1 234V243.15M267.6 235.57V245.49M268.1 233.11V244.76M268.6 233.11V242.13M269.1 233.83V245.13M269.6 232.09V244.87M270.1 230.87V242.81M270.6 233.25V245.84M271.1 231.24V244.52M271.6 233.05V243.3M272.1 233.85V245.11M272.6 232.92V246.74M273.1 230.99V248.25M273.6 231.02V249.41M274.1 231.49V245.24M274.6 227.85V247.3M275.1 229.37V248.14M275.6 225.8V247.62M276.1 231.53V247.54M276.6 230.49V247.21M277.1 233.38V247.21M277.6 231.01V245.16M278.1 229.48V249.37M278.6 229.32V244.55M279.1 229.84V248.28M279.6 229.24V248.79M280.1 228.79V247.31M280.6 224.41V255.83M281.1 223.56V250.38M281.6 224.74V247.37M282.1 227.33V250.94M282.6 226.74V252.88M283.1 223.27V248.27M283.6 225.49V251.81M284.1 228.32V250.4M284.6 229.49V250.17M285.1 225.62V245.21M285.6 230.36V246.04M286.1 230.98V245.35M286.6 225.54V247.29M287.1 232.22V249.66M287.6 227.06V247.47M288.1 230.17V245.35M288.6 230.85V246.41M289.1 228.29V246.63M289.6 226.1V250.91M290.1 226.58V252.1M290.6 222.65V250.66M291.1 232.18V248.19M291.6 229.35V246.35M292.1 231.34V246.93M292.6 230.56V244.92M293.1 229.46V244.04M293.6 231.78V244.52M294.1 231.16V246.8M294.6 231.54V246.6M295.1 230.23V245.57M295.6 232.85V246.46M296.1 231.11V247M296.6 232.18V249.35M297.1 230.86V249.87M297.6 232.1V246.91M298.1 231.51V247.32M298.6 231.67V247.75M299.1 232.05V245.62M299.6 225.52V247.95M300.1 229.19V249.68M300.6 233.29V242.03M301.1 232.45V245.83M301.6 229.79V247.65M302.1 229.48V247.1M302.6 227.02V247.63M303.1 229.75V252.9M303.6 226.54V247.14M304.1 229.93V247.14M304.6 228.78V248.27M305.1 227.87V244.34M305.6 228.53V248.13M306.1 231.66V245.91M306.6 233.12V245.28M307.1 230.63V247.21" fill="none" stroke="#ffd800" stroke-width="1.2" clip-path="url(#cl3)"/>
 <text x="43.2" y="230.3" font-size="11.5" text-anchor="end">0.02</text>
 <text x="43.2" y="242.9" font-size="11.5" text-anchor="end">0</text>
 <text x="43.2" y="255.3" font-size="11.5" text-anchor="end">-0.02</text>
<text x="134" y="278.5" font-size="11.5" text-anchor="middle">5000</text>
<text x="220.8" y="278.5" font-size="11.5" text-anchor="middle">10000</text>
<text x="308.6" y="278.5" font-size="11.5" text-anchor="middle">15000</text>
<text transform="translate(14.3,240.5) rotate(-90)" font-size="13" font-weight="bold" text-anchor="middle" fill="#000">IMF4</text>
<rect x="47.2" y="282.4" width="260.4" height="47.6" fill="none" stroke="#808080" stroke-width="1"/><path d="M134 330.0v-2.4M134 282.4v2.4M220.8 330.0v-2.4M220.8 282.4v2.4M47.2 294h2.4M307.6 294h-2.4M47.2 306.4h2.4M307.6 306.4h-2.4M47.2 319h2.4M307.6 319h-2.4" stroke="#808080" stroke-width="0.9" fill="none"/>
<clipPath id="cl4"><rect x="47.2" y="281.9" width="261" height="48.6"/></clipPath>
<path d="M47.6 298.6V315.03M48.1 300.21V315.21M48.6 301.8V313.08M49.1 299.84V314.02M49.6 295.7V314.02M50.1 294.73V316.13M50.6 297.34V312.05M51.1 297.77V314.01M51.6 300.52V315.53M52.1 298.85V315.41M52.6 297.51V312.16M53.1 296.24V314.61M53.6 297.78V313.96M54.1 297.43V314.36M54.6 297.43V320.29M55.1 295.87V317.48M55.6 298.01V320.45M56.1 291.66V316.11M56.6 297.75V317.37M57.1 297.49V316.81M57.6 293.9V316.81M58.1 295.66V316.31M58.6 293.93V322.28M59.1 296.43V318.15M59.6 297.65V315.43M60.1 296.59V317.53M60.6 295.64V321.28M61.1 296.33V316.92M61.6 293.17V314.53M62.1 293.17V317.08M62.6 299.91V311.89M63.1 302.87V310.82M63.6 300.08V311.93M64.1 301.23V315.19M64.6 297.95V313.16M65.1 297.89V314.23M65.6 294.22V317.34M66.1 294.6V315.01M66.6 299.18V312.6M67.1 299.18V318.42M67.6 300.13V311.07M68.1 298.1V313.6M68.6 298.24V315.17M69.1 299.45V318.41M69.6 299.85V313.11M70.1 301.79V310.5M70.6 302.04V312.27M71.1 301.19V313.46M71.6 299.29V315.97M72.1 299.59V315.6M72.6 299.68V318.38M73.1 300.79V314.23M73.6 299.8V315.32M74.1 302.5V310.83M74.6 299.53V312.29M75.1 298.43V312.89M75.6 299.96V311.39M76.1 296.64V314.81M76.6 294.21V314.15M77.1 298.67V316.84M77.6 296.84V317.53M78.1 294.88V317.42M78.6 296.36V317.44M79.1 295.66V319.13M79.6 295.85V316.47M80.1 295.37V315.96M80.6 297.12V317.76M81.1 295.87V315.48M81.6 295.68V315.94M82.1 291.36V323.38M82.6 297.54V319.83M83.1 295.81V311.36M83.6 300.92V311.36M84.1 301.4V312.39M84.6 299.23V315.06M85.1 297.6V316.77M85.6 299.73V314.96M86.1 296.21V317.43M86.6 294.45V320.44M87.1 301.66V313.38M87.6 301.97V314.81M88.1 299.54V314.05M88.6 293.95V316.76M89.1 295.8V316.76M89.6 299.37V322.26M90.1 298.45V317.23M90.6 301.11V313.66M91.1 296.54V311.85M91.6 293.67V319.09M92.1 292.69V321.92M92.6 290.01V321.65M93.1 297.91V317.74M93.6 293.53V317.1M94.1 298.13V317.73M94.6 295.95V317.03M95.1 297.78V314.76M95.6 297.67V317.71M96.1 296.56V319.09M96.6 296.4V314.51M97.1 296.7V314.22M97.6 296.06V321.21M98.1 297.95V317.92M98.6 299.79V313.01M99.1 300.52V313.64M99.6 299.93V314M100.1 301.55V315.19M100.6 301.46V311.4M101.1 300.81V311.4M101.6 295.54V318.31M102.1 295.54V314.71M102.6 297.63V313.97M103.1 296.71V315.15M103.6 299V312.71M104.1 299.58V316.92M104.6 300.2V319.6M105.1 294.42V319.94M105.6 296.48V316.71M106.1 292.67V319.1M106.6 299.17V316.76M107.1 294.04V320.33M107.6 296.3V314.08M108.1 298.91V314.77M108.6 300.15V315.93M109.1 292.93V314.46M109.6 300.75V314.52M110.1 294.94V319.28M110.6 297.19V315.15M111.1 294.31V315.8M111.6 291.47V315.74M112.1 295.87V314.32M112.6 297.48V318.04M113.1 296.09V319.89M113.6 298.66V319.7M114.1 297.59V316.83M114.6 297.1V314.06M115.1 297.12V316.27M115.6 294.28V316.28M116.1 296.31V315.99M116.6 301.48V312.08M117.1 299.12V312.24M117.6 301.24V312.1M118.1 299.65V312.27M118.6 301.43V313.11M119.1 300.81V313.12M119.6 303.54V313.7M120.1 298.55V314.01M120.6 300.64V310.74M121.1 300.88V311.54M121.6 300.45V313.34M122.1 299.53V317.29M122.6 299.08V312.94M123.1 298.98V311.88M123.6 302.01V311.78M124.1 303.34V311.12M124.6 301.98V311.41M125.1 300.37V311.41M125.6 299.22V312.57M126.1 296.95V317.29M126.6 294.7V313.53M127.1 299.19V316.1M127.6 297.48V315.98M128.1 301.47V314.29M128.6 293.9V326.4M129.1 294.36V325.67M129.6 301.07V314.29M130.1 301.02V315.62M130.6 299.84V314.52M131.1 299.84V313.1M131.6 295.89V312.19M132.1 297.04V314.96M132.6 301.12V313.15M133.1 300.16V313.57M133.6 297.77V316.49M134.1 297.78V314.82M134.6 296.56V322.78M135.1 296.07V321.44M135.6 295.72V317.67M136.1 299.54V313.26M136.6 299.02V313.21M137.1 302.54V313.97M137.6 299.42V312.32M138.1 294.22V314.46M138.6 298.79V314.63M139.1 300.2V323.17M139.6 301.45V316.41M140.1 298.13V316.38M140.6 298.01V315.29M141.1 294.81V316.1M141.6 295.06V318.73M142.1 295.06V316.54M142.6 298.26V317.77M143.1 300.55V315.48M143.6 299.77V313.29M144.1 301.17V315.15M144.6 297.88V319.98M145.1 290.5V321.01M145.6 297.04V321.84M146.1 297.05V315.72M146.6 298.14V311.3M147.1 302.48V310.47M147.6 302.83V311.21M148.1 299.74V314.84M148.6 301.35V314.93M149.1 295.08V314.51M149.6 297.11V316.1M150.1 299.31V315.01M150.6 296.89V311.93M151.1 301.68V311.05M151.6 299.85V315.69M152.1 301.66V312.84M152.6 298.52V315.6M153.1 293.15V313.19M153.6 295.77V314.81M154.1 297.55V319.45M154.6 293.58V321.56M155.1 296.64V318.91M155.6 296.52V321.56M156.1 295.65V321.56M156.6 296.56V321.31M157.1 301.64V312.65M157.6 294.89V311.99M158.1 294.56V317.3M158.6 296.5V319.38M159.1 298.31V315.96M159.6 299.33V315.96M160.1 300.72V311.82M160.6 300.26V316.67M161.1 296.71V316.89M161.6 300.67V313.94M162.1 300.14V315.62M162.6 302.11V313.73M163.1 297.79V312.44M163.6 301.48V313.05M164.1 301.63V311.37M164.6 295.96V313.58M165.1 297.54V313.13M165.6 300.27V312.8M166.1 297.49V312.6M166.6 300.41V309.79M167.1 298.06V311.86M167.6 294.91V314.15M168.1 299.87V312.47M168.6 298.85V314.49M169.1 301.4V313.16M169.6 300.86V313.53M170.1 301.91V312.56M170.6 294.05V316.22M171.1 298.44V314.66M171.6 298.94V310.81M172.1 299.33V312.86M172.6 300.68V310.5M173.1 299.02V310.42M173.6 300.04V312.16M174.1 300.14V313.81M174.6 300.21V313.81M175.1 297.51V313.25M175.6 297.45V313.24M176.1 301.67V313.17M176.6 298.18V310.94M177.1 300.48V311.75M177.6 299.11V311.05M178.1 299.17V313.54M178.6 295.1V311.94M179.1 293.73V311.44M179.6 298.87V313.04M180.1 298.05V312.73M180.6 294.69V317.97M181.1 297.28V318.99M181.6 295.75V313.81M182.1 297.6V316.55M182.6 296.97V312M183.1 293.55V319.33M183.6 293.44V317.48M184.1 299.99V316.57M184.6 302.34V312.82M185.1 301.78V313.27M185.6 298.45V313.25M186.1 296.38V320.64M186.6 299.91V317.24M187.1 299.4V310.1M187.6 298.87V313.82M188.1 291.25V320.66M188.6 289.1V320.66M189.1 297.18V311.71M189.6 297.35V313.41M190.1 300.94V314.11M190.6 297.05V319.1M191.1 295.88V319.1M191.6 298.27V316.22M192.1 299.18V311.1M192.6 296.6V314.51M193.1 296.41V314.1M193.6 300.97V316.06M194.1 299.36V311.6M194.6 299.06V311.83M195.1 293.96V312.31M195.6 300.37V318.66M196.1 298.82V317.85M196.6 300.34V316.96M197.1 289.7V326.33M197.6 287.02V329.52M198.1 292.54V322.95M198.6 295.8V312.62M199.1 300.32V313.17M199.6 296.71V313.17M200.1 299.1V317.64M200.6 293.11V317.36M201.1 296.69V318.77M201.6 293.89V317.7M202.1 300.77V312.48M202.6 298.31V315.45M203.1 300.75V316.92M203.6 300.14V313.93M204.1 296.8V313.7M204.6 298.62V317.08M205.1 296.17V317.13M205.6 297.38V316.16M206.1 295.04V317.86M206.6 294.08V315.16M207.1 296.23V320.34M207.6 295.64V318.62M208.1 301.45V314.41M208.6 301.31V312.32M209.1 299.87V312.32M209.6 299.2V316.02M210.1 300.55V313.39M210.6 298.03V315.37M211.1 296.21V318.2M211.6 297.63V318.34M212.1 296.95V312.15M212.6 294.47V315.07M213.1 296.08V315.78M213.6 295.32V314.14M214.1 295.99V314.12M214.6 295.99V313.36M215.1 301.36V311.15M215.6 301.14V310.69M216.1 297.8V311.2M216.6 297.8V314.47M217.1 294.26V314.96M217.6 299.82V314.96M218.1 293.55V316.15M218.6 298.55V314.09M219.1 296.82V313.47M219.6 300.25V312.48M220.1 298.45V311.72M220.6 300.69V316.01M221.1 298.28V313.8M221.6 299.36V320.32M222.1 301.98V313.47M222.6 300.53V312.78M223.1 298.62V311.9M223.6 296.94V316.89M224.1 300.32V314.97M224.6 297.74V312.52M225.1 298.66V315.65M225.6 298.52V317.26M226.1 300V313.79M226.6 299.55V314.31M227.1 303.26V313.29M227.6 300.15V311M228.1 300.87V311.46M228.6 296.93V316.17M229.1 300.75V315.03M229.6 300.17V313.69M230.1 299.89V313.49M230.6 297.62V313.84M231.1 296.41V316.55M231.6 295.27V316.55M232.1 301.34V313.89M232.6 296.72V312.05M233.1 296.72V311.6M233.6 298.28V312.32M234.1 299.29V313.3M234.6 297.57V312.21M235.1 300.42V313.61M235.6 300.11V313.61M236.1 297.33V310.46M236.6 299.08V311.58M237.1 296.4V312.27M237.6 294.73V314.56M238.1 300.82V311.33M238.6 301.02V312.65M239.1 301.76V313.41M239.6 299.72V313.65M240.1 296.31V313.54M240.6 295.44V312.36M241.1 297.43V315.77M241.6 295.29V315.06M242.1 297.21V315.1M242.6 298.77V313.44M243.1 298.6V315.01M243.6 291.48V316.85M244.1 292.91V318.72M244.6 296.21V316.75M245.1 299.03V313.89M245.6 295.26V321.09M246.1 292.81V312.64M246.6 297.43V315.62M247.1 300.9V312.01M247.6 297.16V314.95M248.1 299.3V314.59M248.6 299.22V314.85M249.1 299.04V314.78M249.6 297.34V312.67M250.1 294.34V315.76M250.6 296.1V313.53M251.1 293.19V313.18M251.6 295.56V314.94M252.1 297.65V318.85M252.6 290.89V321.08M253.1 296.36V317.8M253.6 299.41V314.41M254.1 299.05V314.1M254.6 298.21V314M255.1 297.65V314M255.6 293.54V318.3M256.1 299.26V316.24M256.6 295.32V315.05M257.1 295.32V319.67M257.6 299.81V316.25M258.1 300.38V315.64M258.6 298.56V317.12M259.1 296.06V317.2M259.6 296.2V313.82M260.1 298.42V319.09M260.6 298.5V316.12M261.1 299.8V313.55M261.6 298.19V314.26M262.1 299.15V314.54M262.6 299.75V314.13M263.1 296.5V314.28M263.6 296.82V316.6M264.1 299.43V316.7M264.6 298.01V313.33M265.1 298.9V313.13M265.6 301.79V310.26M266.1 302.67V310.44M266.6 297.03V314.73M267.1 295.71V312.81M267.6 296.16V311.61M268.1 297.59V314.6M268.6 299.1V314.44M269.1 301.89V314.44M269.6 298.42V315.1M270.1 294.59V320.43M270.6 293.76V316.96M271.1 299.76V314.82M271.6 301.56V311.23M272.1 298.62V312.26M272.6 302.06V312.13M273.1 302.17V313.13M273.6 300.43V312.03M274.1 299.91V313.05M274.6 304.45V312.47M275.1 300.59V310.71M275.6 299.24V313.99M276.1 297.15V314.38M276.6 296.21V313.53M277.1 296.78V313.69M277.6 294.2V315.96M278.1 294.2V315.09M278.6 298.69V313.46M279.1 298.78V313.5M279.6 299.12V315.57M280.1 296.15V318.29M280.6 295.43V316.3M281.1 297.84V316.53M281.6 296.52V317.12M282.1 293V319.38M282.6 290.8V324.83M283.1 288.53V323.69M283.6 289.95V322.13M284.1 289.95V325.37M284.6 288.67V319.03M285.1 290.8V317.11M285.6 290.8V316.22M286.1 296.47V316.03M286.6 298.08V324.65M287.1 282.42V320.75M287.6 286.93V323.69M288.1 289.4V323.24M288.6 293.23V325.61M289.1 288.23V318.7M289.6 293.86V325.61M290.1 289.43V325.75M290.6 289.43V327.24M291.1 295.75V315.86M291.6 291.5V327.17M292.1 294.96V324.67M292.6 296.79V319.79M293.1 293.48V324.7M293.6 297.07V318.96M294.1 300.23V317.08M294.6 297.25V317.15M295.1 296.21V316.62M295.6 299.12V318.17M296.1 296.98V321.03M296.6 295.93V313.39M297.1 291.82V320.67M297.6 297.72V317.48M298.1 299.61V313.83M298.6 300.05V311.35M299.1 298.61V312.06M299.6 296.97V318.2M300.1 296.97V317.14M300.6 298.81V315.77M301.1 291.13V315M301.6 296.48V321.03M302.1 297.89V311.04M302.6 300.24V316.69M303.1 292.97V316.69M303.6 298.36V321.16M304.1 298.22V315.88M304.6 297.98V318.08M305.1 297.94V319.05M305.6 296.81V316.99M306.1 292.18V324.03M306.6 294.09V316M307.1 292.11V322.8" fill="none" stroke="#ff00ff" stroke-width="1.2" clip-path="url(#cl4)"/>
 <text x="43.2" y="298.3" font-size="11.5" text-anchor="end">0.02</text>
 <text x="43.2" y="310.7" font-size="11.5" text-anchor="end">0</text>
 <text x="43.2" y="323.3" font-size="11.5" text-anchor="end">-0.02</text>
<text x="46.7" y="344.5" font-size="11.5" text-anchor="middle">0</text>
<text x="134" y="344.5" font-size="11.5" text-anchor="middle">5000</text>
<text x="220.8" y="344.5" font-size="11.5" text-anchor="middle">10000</text>
<text x="308.6" y="344.5" font-size="11.5" text-anchor="middle">15000</text>
<text transform="translate(14.3,306.2) rotate(-90)" font-size="13" font-weight="bold" text-anchor="middle" fill="#000">IMF5</text>
<rect x="349.4" y="21.2" width="196.6" height="42.8" fill="none" stroke="#808080" stroke-width="1"/><path d="M408.38 64.0v-2.4M408.38 21.2v2.4M467.36 64.0v-2.4M467.36 21.2v2.4M526.34 64.0v-2.4M526.34 21.2v2.4M349.4 34h2.4M546.0 34h-2.4M349.4 48.8h2.4M546.0 48.8h-2.4M349.4 63.6h2.4M546.0 63.6h-2.4" stroke="#808080" stroke-width="0.9" fill="none"/>
<path d="M350.09999999999997 21.2 L350.29999999999995 63.2 L510.45 63.2" fill="none" stroke="#0000ff" stroke-width="2" stroke-linejoin="round"/>
<text x="344.2" y="38.2" font-size="11.5" text-anchor="end">1</text>
<text x="344.2" y="53" font-size="11.5" text-anchor="end">0.5</text>
<text x="344.2" y="67.8" font-size="11.5" text-anchor="end">0</text>
<text x="408.58" y="78.6" font-size="11.5" text-anchor="middle">3000</text>
<text x="467.36" y="78.6" font-size="11.5" text-anchor="middle">6000</text>
<text x="526.14" y="78.6" font-size="11.5" text-anchor="middle">9000</text>
<rect x="349.4" y="88.6" width="196.6" height="41.6" fill="none" stroke="#808080" stroke-width="1"/><path d="M408.38 130.2v-2.4M408.38 88.6v2.4M467.36 130.2v-2.4M467.36 88.6v2.4M526.34 130.2v-2.4M526.34 88.6v2.4M349.4 94h2.4M546.0 94h-2.4M349.4 112.2h2.4M546.0 112.2h-2.4M349.4 130.2h2.4M546.0 130.2h-2.4" stroke="#808080" stroke-width="0.9" fill="none"/>
<path d="M349.6 130.41V129.73M350 130.41V129.7M350.4 130.41V129.63M350.8 130.4V129.64M351.2 130.41V129.57M351.6 130.4V129.57M352 130.4V129.42M352.4 130.39V129.46M352.8 130.38V129.37M353.2 130.39V129.27M353.6 130.38V129.42M354 130.39V129.1M354.4 130.39V129.22M354.8 130.35V129.19M355.2 130.4V129.1M355.6 130.4V129.03M356 130.4V128.95M356.4 130.33V128.65M356.8 130.39V128.8M357.2 130.35V128.75M357.6 130.33V128.57M358 130.4V128.48M358.4 130.3V128.41M358.8 130.37V128.57M359.2 130.29V128.31M359.6 130.19V128.29M360 130.1V128.29M360.4 130.25V127.74M360.8 130.3V127.51M361.2 130.23V126.72M361.6 130.27V127.09M362 130.14V126.73M362.4 130.15V127.31M362.8 130.23V126.75M363.2 130.29V126.81M363.6 130.1V127.08M364 130.28V125.98M364.4 130.18V126.05M364.8 130.18V125.12M365.2 130.23V124.06M365.6 130.02V125.17M366 130.36V123.87M366.4 130.31V123.87M366.8 130.02V122.98M367.2 130.15V123.03M367.6 130.28V124.09M368 129.94V122.1M368.4 129.95V123.53M368.8 130.14V123.87M369.2 130.14V122.24M369.6 129.75V120.56M370 129.44V122.27M370.4 129.77V120.27M370.8 129.76V121.91M371.2 130.26V118.61M371.6 129.61V120.77M372 129.91V120.02M372.4 130.01V119.02M372.8 129.68V117.14M373.2 130.19V112.28M373.6 128.96V112.28M374 129.35V111.54M374.4 129.35V116.23M374.8 129.54V115.37M375.2 128.3V111.02M375.6 129.31V115.33M376 129.32V109.7M376.4 128.78V112.63M376.8 129.31V112.28M377.2 129.8V109.75M377.6 129.8V110.28M378 128.6V110.22M378.4 129.69V108.32M378.8 128.63V110.99M379.2 128.97V110.99M379.6 128.16V96.56M380 128.34V104.61M380.4 129.08V97.32M380.8 129.39V100.08M381.2 128.48V97.1M381.6 129.35V99.6M382 128.64V94.95M382.4 128.45V87.55M382.8 127.14V99.97M383.2 127.9V99.13M383.6 128.13V105.32M384 127.56V104.46M384.4 128.51V105.87M384.8 128.73V102.82M385.2 128.11V100.97M385.6 128.11V109.87M386 129.57V112.65M386.4 129.51V108.5M386.8 130.09V107.56M387.2 129.11V107.56M387.6 128.78V112.03M388 129.44V107.32M388.4 129.91V110M388.8 129.96V114.61M389.2 129.96V114.66M389.6 129.72V116.56M390 129.46V112.59M390.4 128.49V119.39M390.8 130.12V115.61M391.2 129.52V118.85M391.6 129.4V114.31M392 129.57V118.9M392.4 129.57V116.92M392.8 129.73V119.66M393.2 130.06V119.76M393.6 130.06V121.26M394 130.23V121.55M394.4 129.96V123.08M394.8 129.98V120.29M395.2 129.96V121.99M395.6 130.03V124.21M396 130V124.76M396.4 130.26V124.45M396.8 130.2V124.2M397.2 130.22V124.74M397.6 129.95V123.74M398 130.24V126.07M398.4 130.39V126.1M398.8 130.39V126.53M399.2 130.26V126.15M399.6 130.03V126.44M400 130.32V126.44M400.4 130.21V126.49M400.8 130.29V126.65M401.2 130.39V127.53M401.6 130.39V127.06M402 130.18V127.35M402.4 130.12V127.45M402.8 130.19V127.68M403.2 130.31V128.13M403.6 130.33V127.9M404 130.37V127.93M404.4 130.37V128.15M404.8 130.28V128.37M405.2 130.32V128.21M405.6 130.38V128.31M406 130.37V128.51M406.4 130.36V128.91M406.8 130.31V128.43M407.2 130.36V128.83M407.6 130.34V128.88M408 130.3V128.93M408.4 130.36V128.99M408.8 130.36V128.96M409.2 130.38V128.94M409.6 130.4V129.12M410 130.38V128.97M410.4 130.38V129.11M410.8 130.36V129.08M411.2 130.39V129.1M411.6 130.34V129.12M412 130.34V129.19M412.4 130.38V129.26M412.8 130.39V129.37M413.2 130.38V129.23M413.6 130.4V129.4M414 130.38V129.43M414.4 130.38V129.42M414.8 130.4V129.43M415.2 130.4V129.51M415.6 130.41V129.43M416 130.41V129.53M416.4 130.4V129.46M416.8 130.4V129.53M417.2 130.39V129.54M417.6 130.4V129.51M418 130.4V129.55M418.4 130.39V129.6M418.8 130.4V129.57M419.2 130.4V129.59M419.6 130.4V129.63M420 130.41V129.62M420.4 130.4V129.65M420.8 130.41V129.64M421.2 130.41V129.66M421.6 130.4V129.61M422 130.41V129.65M422.4 130.41V129.66M422.8 130.4V129.69M423.2 130.41V129.67M423.6 130.41V129.68M424 130.41V129.68M424.4 130.41V129.71M424.8 130.41V129.71M425.2 130.41V129.7M425.6 130.41V129.7M426 130.41V129.72M426.4 130.41V129.71M426.8 130.41V129.71M427.2 130.41V129.71M427.6 130.41V129.72M428 130.41V129.71M428.4 130.41V129.72M428.8 130.41V129.73M429.2 130.41V129.73M429.6 130.41V129.73M430 130.41V129.73M430.4 130.41V129.73M430.8 130.41V129.74M431.2 130.41V129.73M431.6 130.41V129.74M432 130.41V129.74M432.4 130.41V129.73M432.8 130.41V129.74M433.2 130.41V129.74M433.6 130.41V129.74M434 130.41V129.74M434.4 130.41V129.74M434.8 130.41V129.74M435.2 130.41V129.75M435.6 130.41V129.75M436 130.41V129.75M436.4 130.41V129.75M436.8 130.41V129.75M437.2 130.41V129.75M437.6 130.41V129.75M438 130.41V129.75M438.4 130.41V129.75M438.8 130.41V129.75M439.2 130.41V129.75M439.6 130.41V129.75M440 130.41V129.75M440.4 130.41V129.75M440.8 130.41V129.75M441.2 130.41V129.75M441.6 130.41V129.75M442 130.41V129.75M442.4 130.41V129.75M442.8 130.41V129.75M443.2 130.41V129.75M443.6 130.41V129.75M444 130.41V129.75M444.4 130.41V129.75M444.8 130.41V129.75M445.2 130.41V129.75M445.6 130.41V129.75M446 130.41V129.75M446.4 130.41V129.75M446.8 130.41V129.75M447.2 130.41V129.75M447.6 130.41V129.75M448 130.41V129.75M448.4 130.41V129.75M448.8 130.41V129.75M449.2 130.41V129.75M449.6 130.41V129.75M450 130.41V129.75M450.4 130.41V129.75M450.8 130.41V129.75M451.2 130.41V129.75M451.6 130.41V129.75M452 130.41V129.75M452.4 130.41V129.75M452.8 130.41V129.75M453.2 130.41V129.75M453.6 130.41V129.75M454 130.41V129.76M454.4 130.41V129.76M454.8 130.41V129.76M455.2 130.41V129.76M455.6 130.41V129.76M456 130.41V129.76M456.4 130.41V129.76M456.8 130.41V129.76M457.2 130.41V129.76M457.6 130.41V129.76M458 130.41V129.76M458.4 130.41V129.76M458.8 130.41V129.76M459.2 130.41V129.76M459.6 130.41V129.76M460 130.41V129.76M460.4 130.41V129.76M460.8 130.41V129.76M461.2 130.41V129.76M461.6 130.41V129.76M462 130.41V129.76M462.4 130.41V129.76M462.8 130.41V129.76M463.2 130.41V129.76M463.6 130.41V129.76M464 130.41V129.76M464.4 130.41V129.76M464.8 130.41V129.76M465.2 130.41V129.76M465.6 130.41V129.76M466 130.41V129.76M466.4 130.41V129.76M466.8 130.41V129.76M467.2 130.41V129.76M467.6 130.41V129.76M468 130.41V129.76M468.4 130.41V129.76M468.8 130.41V129.76M469.2 130.41V129.76M469.6 130.41V129.76M470 130.41V129.76M470.4 130.41V129.76M470.8 130.41V129.76M471.2 130.41V129.76M471.6 130.41V129.76M472 130.41V129.76M472.4 130.41V129.76M472.8 130.41V129.76M473.2 130.41V129.76M473.6 130.41V129.76M474 130.41V129.76M474.4 130.41V129.76M474.8 130.41V129.76M475.2 130.41V129.76M475.6 130.41V129.76M476 130.41V129.76M476.4 130.41V129.76M476.8 130.41V129.76M477.2 130.41V129.76M477.6 130.41V129.76M478 130.41V129.76M478.4 130.41V129.76M478.8 130.41V129.76M479.2 130.41V129.76M479.6 130.41V129.76M480 130.41V129.76M480.4 130.41V129.76M480.8 130.41V129.76M481.2 130.41V129.76M481.6 130.41V129.76M482 130.41V129.76M482.4 130.41V129.76M482.8 130.41V129.76M483.2 130.41V129.76M483.6 130.41V129.76M484 130.41V129.76M484.4 130.41V129.76M484.8 130.41V129.76M485.2 130.41V129.76M485.6 130.41V129.76M486 130.41V129.76M486.4 130.41V129.76M486.8 130.41V129.76M487.2 130.41V129.76M487.6 130.41V129.76M488 130.41V129.76M488.4 130.41V129.76M488.8 130.41V129.76M489.2 130.41V129.76M489.6 130.41V129.76M490 130.41V129.76M490.4 130.41V129.76M490.8 130.41V129.76M491.2 130.41V129.76M491.6 130.41V129.76M492 130.41V129.76M492.4 130.41V129.76M492.8 130.41V129.76M493.2 130.41V129.76M493.6 130.41V129.76M494 130.41V129.76M494.4 130.41V129.76M494.8 130.41V129.76M495.2 130.41V129.76M495.6 130.41V129.76M496 130.41V129.76M496.4 130.41V129.76M496.8 130.41V129.76M497.2 130.41V129.76M497.6 130.41V129.76M498 130.41V129.76M498.4 130.41V129.76M498.8 130.41V129.76M499.2 130.41V129.76M499.6 130.41V129.76M500 130.41V129.76M500.4 130.41V129.76M500.8 130.41V129.76M501.2 130.41V129.76M501.6 130.41V129.76M502 130.41V129.76M502.4 130.41V129.76M502.8 130.41V129.76M503.2 130.41V129.76M503.6 130.41V129.76M504 130.41V129.76M504.4 130.41V129.76M504.8 130.41V129.76M505.2 130.41V129.76M505.6 130.41V129.76M506 130.41V129.76M506.4 130.41V129.76M506.8 130.41V129.76M507.2 130.41V129.76M507.6 130.41V129.76M508 130.41V129.76M508.4 130.41V129.76M508.8 130.41V129.76M509.2 130.41V129.76M509.6 130.41V129.76M510 130.41V129.76M510.4 130.41V129.76" fill="none" stroke="#00ff00" stroke-width="0.95"/>
<path d="M349.4 130.2H510.45" fill="none" stroke="#00ff00" stroke-width="1.2"/>
<text x="344.2" y="98.2" font-size="11.5" text-anchor="end">1</text>
<text x="344.2" y="116.4" font-size="11.5" text-anchor="end">0.5</text>
<text x="344.2" y="134.4" font-size="11.5" text-anchor="end">0</text>
<text x="408.58" y="144.8" font-size="11.5" text-anchor="middle">3000</text>
<text x="467.36" y="144.8" font-size="11.5" text-anchor="middle">6000</text>
<text x="526.14" y="144.8" font-size="11.5" text-anchor="middle">9000</text>
<text x="350.29999999999995" y="85.4" font-size="11.5"><tspan font-size="14" dy="1.6">×</tspan><tspan dx="1.2" dy="-1.6">10</tspan><tspan dy="-6.8" font-size="9.5">-3</tspan></text>
<rect x="349.4" y="153.6" width="196.6" height="42.4" fill="none" stroke="#808080" stroke-width="1"/><path d="M408.38 196.0v-2.4M408.38 153.6v2.4M467.36 196.0v-2.4M467.36 153.6v2.4M526.34 196.0v-2.4M526.34 153.6v2.4M349.4 153.8h2.4M546.0 153.8h-2.4M349.4 174.9h2.4M546.0 174.9h-2.4M349.4 196h2.4M546.0 196h-2.4" stroke="#808080" stroke-width="0.9" fill="none"/>
<path d="M349.6 196.2V195.53M350 196.2V195.53M350.4 196.2V195.53M350.8 196.2V195.53M351.2 196.2V195.53M351.6 196.2V195.53M352 196.2V195.53M352.4 196.2V195.52M352.8 196.2V195.52M353.2 196.2V195.53M353.6 196.2V195.52M354 196.2V195.52M354.4 196.2V195.52M354.8 196.2V195.52M355.2 196.2V195.52M355.6 196.2V195.51M356 196.2V195.51M356.4 196.2V195.51M356.8 196.2V195.51M357.2 196.2V195.5M357.6 196.2V195.51M358 196.2V195.5M358.4 196.2V195.5M358.8 196.2V195.5M359.2 196.2V195.5M359.6 196.19V195.5M360 196.2V195.49M360.4 196.2V195.5M360.8 196.2V195.49M361.2 196.2V195.49M361.6 196.2V195.48M362 196.2V195.48M362.4 196.2V195.46M362.8 196.2V195.47M363.2 196.19V195.48M363.6 196.19V195.43M364 196.19V195.46M364.4 196.19V195.45M364.8 196.2V195.44M365.2 196.2V195.43M365.6 196.2V195.43M366 196.18V195.39M366.4 196.19V195.41M366.8 196.19V195.44M367.2 196.19V195.43M367.6 196.2V195.39M368 196.2V195.36M368.4 196.19V195.38M368.8 196.19V195.41M369.2 196.18V195.35M369.6 196.19V195.35M370 196.19V195.35M370.4 196.18V195.4M370.8 196.2V195.26M371.2 196.18V195.31M371.6 196.18V195.36M372 196.18V195.35M372.4 196.19V195.32M372.8 196.18V195.22M373.2 196.18V195.21M373.6 196.19V195.27M374 196.17V195.25M374.4 196.17V195.22M374.8 196.18V195.23M375.2 196.15V195.17M375.6 196.17V195.15M376 196.17V195.19M376.4 196.19V195.16M376.8 196.16V195.21M377.2 196.16V195.03M377.6 196.16V194.98M378 196.19V195.03M378.4 196.17V195.13M378.8 196.19V194.91M379.2 196.17V195.07M379.6 196.17V195.03M380 196.17V194.93M380.4 196.14V194.82M380.8 196.19V194.98M381.2 196.15V194.79M381.6 196.1V194.8M382 196.16V194.55M382.4 196.14V194.55M382.8 196.16V194.69M383.2 196.12V194.38M383.6 196.08V194.19M384 196.18V194.56M384.4 196.09V194.59M384.8 196.07V194.49M385.2 196.11V194.11M385.6 196.06V193.76M386 196.19V193.76M386.4 196.11V194.4M386.8 196.1V194.28M387.2 196.09V194.07M387.6 196.15V193.51M388 196.07V194.18M388.4 196.04V193.95M388.8 196.12V193.65M389.2 196.07V193.49M389.6 196.09V193.1M390 195.97V193.4M390.4 196.02V193.55M390.8 196.1V192.35M391.2 196.11V193.32M391.6 196.07V192.66M392 196.09V193.11M392.4 195.88V193.27M392.8 196.07V192.75M393.2 195.96V191.92M393.6 195.83V192.39M394 196.05V191.22M394.4 195.96V191.1M394.8 196.06V191.92M395.2 196.06V191.46M395.6 195.9V191.25M396 196.11V191.57M396.4 196.02V191.86M396.8 196.15V190.34M397.2 196V191.03M397.6 196.13V191.63M398 195.72V189.87M398.4 195.41V189.13M398.8 196.11V191.18M399.2 195.98V189.86M399.6 195.83V189.93M400 195.97V189.08M400.4 195.83V188.78M400.8 196.14V184.79M401.2 195.76V186.24M401.6 195.86V185.56M402 195.87V185.39M402.4 195.89V185.94M402.8 195.79V184.56M403.2 195.41V184.56M403.6 195.71V180.91M404 195.71V184.62M404.4 195.51V183.89M404.8 195.79V182.49M405.2 195.62V179.39M405.6 194.14V182.84M406 195.9V183.92M406.4 195.18V180.22M406.8 195.02V178.6M407.2 194.33V179.5M407.6 195.6V184.34M408 195.52V179.32M408.4 195.62V179.87M408.8 194.82V181.7M409.2 195.91V176.81M409.6 194.76V175.82M410 195.01V178.43M410.4 195.01V177.18M410.8 196.04V180.13M411.2 195.07V172.51M411.6 193.96V171.57M412 193.36V170.48M412.4 194.45V169.36M412.8 195.43V163.88M413.2 194.15V163.88M413.6 195.59V171.09M414 194.57V173.3M414.4 195.15V165.33M414.8 195.03V159.97M415.2 195.19V154.77M415.6 192.47V168.57M416 195.2V153.5M416.4 195.2V163.84M416.8 192.68V170.4M417.2 194.77V162.12M417.6 195.36V167.25M418 195.55V162.34M418.4 195.77V166.7M418.8 194.74V178.4M419.2 194.81V173.86M419.6 193.73V173.31M420 194.48V173.31M420.4 195.22V172.78M420.8 195.75V173.92M421.2 194.98V173.92M421.6 195.57V180.35M422 194.89V174.37M422.4 195.33V174.37M422.8 195.86V181.1M423.2 195.53V178.42M423.6 195.56V176.19M424 196.08V182.78M424.4 195.87V179.61M424.8 195.53V182.28M425.2 196.02V180.04M425.6 195.16V180.04M426 195.11V182.01M426.4 195.05V185.61M426.8 196.14V182.22M427.2 195.27V184.41M427.6 195.48V186.01M428 195.48V184.76M428.4 195.29V184.76M428.8 195.29V185.75M429.2 195.87V183.32M429.6 195.8V185.79M430 195.26V185.79M430.4 195.92V186.97M430.8 195.84V187.3M431.2 195.79V189.08M431.6 195.79V188.11M432 195.98V187.09M432.4 196.07V189.31M432.8 196.01V187.46M433.2 195.87V190.44M433.6 196.03V188.25M434 196.03V191.56M434.4 195.78V190.58M434.8 195.67V191.28M435.2 195.85V189.94M435.6 196.09V192.38M436 196.05V190.86M436.4 196V191.35M436.8 195.99V192.16M437.2 195.84V191.81M437.6 195.84V192.31M438 195.85V192.07M438.4 196.03V192.41M438.8 196.18V191.78M439.2 196.06V192.88M439.6 196.1V192.48M440 195.88V193.07M440.4 195.98V193.53M440.8 196.03V193.02M441.2 196.07V193.96M441.6 196.13V193.17M442 196.11V193.25M442.4 196.15V193.44M442.8 196.15V193.73M443.2 196.16V193.73M443.6 196.11V194.15M444 196.05V194.59M444.4 196.07V193.97M444.8 196.09V194.09M445.2 196.1V193.76M445.6 196.13V194.13M446 196.17V194.47M446.4 196.08V194.23M446.8 196.12V194.02M447.2 196.09V194.47M447.6 196.09V194.65M448 196.14V194.65M448.4 196.17V194.65M448.8 196.15V194.53M449.2 196.17V194.53M449.6 196.11V194.67M450 196.17V194.75M450.4 196.15V194.87M450.8 196.15V194.92M451.2 196.16V194.74M451.6 196.12V194.98M452 196.17V194.96M452.4 196.16V194.91M452.8 196.17V195.06M453.2 196.18V194.94M453.6 196.19V195.03M454 196.16V194.88M454.4 196.19V194.96M454.8 196.19V195.09M455.2 196.19V195.03M455.6 196.18V195.18M456 196.18V195.19M456.4 196.18V195.2M456.8 196.18V195.15M457.2 196.19V195.16M457.6 196.18V195.21M458 196.18V195.16M458.4 196.17V195.24M458.8 196.18V195.24M459.2 196.18V195.21M459.6 196.17V195.3M460 196.19V195.37M460.4 196.19V195.39M460.8 196.19V195.32M461.2 196.19V195.37M461.6 196.19V195.37M462 196.19V195.37M462.4 196.19V195.39M462.8 196.19V195.34M463.2 196.19V195.36M463.6 196.19V195.41M464 196.2V195.34M464.4 196.19V195.43M464.8 196.19V195.41M465.2 196.2V195.4M465.6 196.19V195.45M466 196.19V195.44M466.4 196.19V195.43M466.8 196.19V195.42M467.2 196.19V195.43M467.6 196.18V195.44M468 196.2V195.46M468.4 196.19V195.46M468.8 196.2V195.47M469.2 196.2V195.47M469.6 196.19V195.47M470 196.2V195.47M470.4 196.2V195.45M470.8 196.2V195.48M471.2 196.2V195.48M471.6 196.2V195.47M472 196.2V195.47M472.4 196.2V195.49M472.8 196.19V195.49M473.2 196.2V195.48M473.6 196.2V195.48M474 196.2V195.49M474.4 196.2V195.5M474.8 196.2V195.49M475.2 196.2V195.5M475.6 196.2V195.51M476 196.2V195.5M476.4 196.2V195.51M476.8 196.2V195.5M477.2 196.2V195.5M477.6 196.2V195.51M478 196.2V195.51M478.4 196.2V195.51M478.8 196.2V195.52M479.2 196.2V195.51M479.6 196.2V195.51M480 196.2V195.52M480.4 196.2V195.51M480.8 196.2V195.52M481.2 196.2V195.51M481.6 196.2V195.52M482 196.2V195.52M482.4 196.2V195.52M482.8 196.2V195.52M483.2 196.2V195.52M483.6 196.2V195.52M484 196.2V195.52M484.4 196.2V195.52M484.8 196.2V195.52M485.2 196.2V195.52M485.6 196.2V195.52M486 196.2V195.52M486.4 196.2V195.52M486.8 196.2V195.53M487.2 196.2V195.53M487.6 196.2V195.53M488 196.2V195.53M488.4 196.2V195.53M488.8 196.2V195.53M489.2 196.2V195.53M489.6 196.2V195.53M490 196.2V195.53M490.4 196.2V195.53M490.8 196.2V195.53M491.2 196.2V195.53M491.6 196.2V195.53M492 196.2V195.53M492.4 196.2V195.53M492.8 196.2V195.53M493.2 196.2V195.53M493.6 196.2V195.53M494 196.2V195.53M494.4 196.2V195.53M494.8 196.2V195.53M495.2 196.2V195.53M495.6 196.2V195.53M496 196.2V195.53M496.4 196.2V195.53M496.8 196.2V195.53M497.2 196.2V195.53M497.6 196.2V195.53M498 196.2V195.53M498.4 196.2V195.53M498.8 196.2V195.53M499.2 196.2V195.53M499.6 196.2V195.53M500 196.2V195.53M500.4 196.2V195.53M500.8 196.2V195.53M501.2 196.2V195.53M501.6 196.2V195.53M502 196.2V195.53M502.4 196.2V195.53M502.8 196.2V195.53M503.2 196.2V195.53M503.6 196.2V195.53M504 196.2V195.53M504.4 196.2V195.53M504.8 196.2V195.53M505.2 196.2V195.53M505.6 196.2V195.53M506 196.2V195.53M506.4 196.2V195.53M506.8 196.2V195.53M507.2 196.2V195.53M507.6 196.2V195.53M508 196.2V195.53M508.4 196.2V195.53M508.8 196.2V195.53M509.2 196.2V195.53M509.6 196.2V195.53M510 196.2V195.53M510.4 196.2V195.53" fill="none" stroke="#00ffff" stroke-width="0.95"/>
<path d="M349.4 196.0H510.45" fill="none" stroke="#00ffff" stroke-width="1.2"/>
<text x="344.2" y="158" font-size="11.5" text-anchor="end">1</text>
<text x="344.2" y="179.1" font-size="11.5" text-anchor="end">0.5</text>
<text x="344.2" y="200.2" font-size="11.5" text-anchor="end">0</text>
<text x="408.58" y="210.6" font-size="11.5" text-anchor="middle">3000</text>
<text x="467.36" y="210.6" font-size="11.5" text-anchor="middle">6000</text>
<text x="526.14" y="210.6" font-size="11.5" text-anchor="middle">9000</text>
<text x="350.29999999999995" y="150.4" font-size="11.5"><tspan font-size="14" dy="1.6">×</tspan><tspan dx="1.2" dy="-1.6">10</tspan><tspan dy="-6.8" font-size="9.5">-3</tspan></text>
<rect x="349.4" y="221.0" width="196.6" height="41.2" fill="none" stroke="#808080" stroke-width="1"/><path d="M408.38 262.2v-2.4M408.38 221.0v2.4M467.36 262.2v-2.4M467.36 221.0v2.4M526.34 262.2v-2.4M526.34 221.0v2.4M349.4 229.4h2.4M546.0 229.4h-2.4M349.4 245.8h2.4M546.0 245.8h-2.4M349.4 262.2h2.4M546.0 262.2h-2.4" stroke="#808080" stroke-width="0.9" fill="none"/>
<path d="M349.6 262.42V261.77M350 262.42V261.77M350.4 262.42V261.77M350.8 262.42V261.77M351.2 262.42V261.77M351.6 262.42V261.77M352 262.42V261.77M352.4 262.42V261.77M352.8 262.42V261.77M353.2 262.42V261.77M353.6 262.42V261.77M354 262.42V261.77M354.4 262.42V261.77M354.8 262.42V261.77M355.2 262.42V261.77M355.6 262.42V261.77M356 262.42V261.77M356.4 262.42V261.77M356.8 262.42V261.77M357.2 262.42V261.77M357.6 262.42V261.77M358 262.42V261.77M358.4 262.42V261.77M358.8 262.42V261.77M359.2 262.42V261.77M359.6 262.42V261.77M360 262.42V261.77M360.4 262.42V261.77M360.8 262.42V261.77M361.2 262.42V261.77M361.6 262.42V261.77M362 262.42V261.77M362.4 262.42V261.77M362.8 262.42V261.77M363.2 262.42V261.77M363.6 262.42V261.77M364 262.42V261.77M364.4 262.42V261.77M364.8 262.42V261.77M365.2 262.42V261.77M365.6 262.42V261.77M366 262.42V261.77M366.4 262.42V261.77M366.8 262.42V261.77M367.2 262.42V261.77M367.6 262.42V261.77M368 262.42V261.77M368.4 262.42V261.77M368.8 262.42V261.77M369.2 262.42V261.77M369.6 262.42V261.77M370 262.42V261.77M370.4 262.42V261.77M370.8 262.42V261.77M371.2 262.42V261.77M371.6 262.42V261.77M372 262.42V261.77M372.4 262.42V261.77M372.8 262.42V261.77M373.2 262.42V261.77M373.6 262.42V261.77M374 262.42V261.77M374.4 262.42V261.77M374.8 262.42V261.77M375.2 262.42V261.77M375.6 262.42V261.77M376 262.42V261.77M376.4 262.42V261.77M376.8 262.42V261.77M377.2 262.42V261.77M377.6 262.42V261.77M378 262.42V261.77M378.4 262.42V261.77M378.8 262.42V261.77M379.2 262.42V261.77M379.6 262.42V261.77M380 262.42V261.77M380.4 262.42V261.77M380.8 262.42V261.77M381.2 262.42V261.77M381.6 262.42V261.77M382 262.42V261.77M382.4 262.42V261.77M382.8 262.42V261.77M383.2 262.42V261.77M383.6 262.42V261.77M384 262.42V261.76M384.4 262.42V261.76M384.8 262.42V261.76M385.2 262.42V261.76M385.6 262.42V261.76M386 262.42V261.76M386.4 262.42V261.76M386.8 262.42V261.76M387.2 262.42V261.76M387.6 262.42V261.76M388 262.42V261.76M388.4 262.42V261.76M388.8 262.42V261.76M389.2 262.42V261.76M389.6 262.42V261.76M390 262.42V261.75M390.4 262.42V261.75M390.8 262.42V261.75M391.2 262.42V261.75M391.6 262.42V261.76M392 262.42V261.75M392.4 262.42V261.75M392.8 262.42V261.75M393.2 262.42V261.75M393.6 262.42V261.75M394 262.42V261.73M394.4 262.42V261.74M394.8 262.42V261.74M395.2 262.42V261.74M395.6 262.42V261.73M396 262.42V261.72M396.4 262.42V261.74M396.8 262.42V261.73M397.2 262.42V261.73M397.6 262.42V261.71M398 262.42V261.72M398.4 262.42V261.73M398.8 262.42V261.71M399.2 262.41V261.71M399.6 262.42V261.71M400 262.42V261.69M400.4 262.42V261.71M400.8 262.41V261.66M401.2 262.42V261.66M401.6 262.42V261.68M402 262.41V261.69M402.4 262.41V261.69M402.8 262.41V261.67M403.2 262.41V261.65M403.6 262.42V261.66M404 262.41V261.61M404.4 262.41V261.63M404.8 262.41V261.64M405.2 262.41V261.58M405.6 262.41V261.59M406 262.41V261.57M406.4 262.41V261.61M406.8 262.4V261.55M407.2 262.4V261.55M407.6 262.41V261.58M408 262.41V261.62M408.4 262.41V261.56M408.8 262.41V261.51M409.2 262.4V261.49M409.6 262.4V261.52M410 262.41V261.46M410.4 262.37V261.4M410.8 262.39V261.39M411.2 262.4V261.39M411.6 262.4V261.38M412 262.4V261.38M412.4 262.4V261.44M412.8 262.4V261.29M413.2 262.4V261.22M413.6 262.38V261.22M414 262.4V261.32M414.4 262.38V261.23M414.8 262.38V261.18M415.2 262.38V261.23M415.6 262.39V261.27M416 262.34V261.09M416.4 262.31V260.97M416.8 262.38V260.79M417.2 262.38V260.79M417.6 262.39V260.97M418 262.39V260.73M418.4 262.39V260.57M418.8 262.36V260.79M419.2 262.39V260.79M419.6 262.39V260.5M420 262.4V260.71M420.4 262.34V260.63M420.8 262.35V260.52M421.2 262.24V260.45M421.6 262.32V260.4M422 262.32V259.98M422.4 262.37V259.59M422.8 262.4V260.36M423.2 262.37V260.24M423.6 262.28V259.73M424 262.2V259.92M424.4 262.39V259.8M424.8 262.38V260.24M425.2 262.18V258.79M425.6 262.23V259.66M426 262.19V258.72M426.4 262.3V258.67M426.8 262.28V258.7M427.2 262.06V258.27M427.6 262.27V259.15M428 262.4V257.48M428.4 262.23V258.08M428.8 262.32V258.79M429.2 262.16V257.73M429.6 262.11V257.03M430 262.06V255.6M430.4 261.96V256.64M430.8 261.84V256.11M431.2 261.85V256.84M431.6 262.28V256.25M432 262.12V256.21M432.4 262.27V253.39M432.8 262.07V255.53M433.2 261.99V254.09M433.6 262.19V253.12M434 261.93V253.12M434.4 262.05V254.17M434.8 261.91V251.61M435.2 262.16V251.09M435.6 261.46V251.22M436 261.44V252.34M436.4 261.71V251.81M436.8 262.17V248.5M437.2 261.56V245.19M437.6 261.7V245.19M438 261.86V249.42M438.4 262.28V250.73M438.8 260.73V245.23M439.2 261.23V245.23M439.6 261.98V243.55M440 261.2V243.37M440.4 261.03V240.86M440.8 261.32V241.67M441.2 259.92V243.77M441.6 261.91V242.7M442 259.7V241.88M442.4 261.49V238.31M442.8 262.25V245.94M443.2 259.34V236.32M443.6 259.7V234.42M444 260.35V234.42M444.4 259.53V238.19M444.8 258.99V235.7M445.2 259.82V235.7M445.6 260.13V232.34M446 261.3V233.98M446.4 261.3V220.24M446.8 260.69V229.12M447.2 259.97V225.09M447.6 260.11V227.04M448 261.5V231.23M448.4 260.51V237.06M448.8 262.08V237.77M449.2 261.8V229.02M449.6 260.15V235.18M450 262.06V239.45M450.4 261.28V244.13M450.8 260.16V239.08M451.2 260.33V240.42M451.6 261.55V241.97M452 260.87V236.23M452.4 262V244.08M452.8 262.34V243.4M453.2 261.31V246.23M453.6 261.31V243.62M454 261.43V249.75M454.4 261.28V248.85M454.8 261.95V246.86M455.2 262.11V246.86M455.6 262.07V251.49M456 261.09V246.22M456.4 261.6V249.45M456.8 261.51V252.61M457.2 261.82V252.08M457.6 261.33V251.61M458 261.61V251.64M458.4 261.71V254.14M458.8 262.1V251.48M459.2 261.8V252.95M459.6 262.26V253.98M460 262.35V255.6M460.4 261.93V255.06M460.8 261.88V254.7M461.2 262.23V254.59M461.6 262.05V256.9M462 262.1V256.91M462.4 262.08V255.32M462.8 262.11V255.67M463.2 262.13V257.18M463.6 262.18V257.17M464 262.1V257.52M464.4 262.23V258.44M464.8 262.13V257.09M465.2 262.42V258.27M465.6 262.2V258.61M466 262.26V257.8M466.4 262.26V259.14M466.8 262.38V258.91M467.2 262.36V258.4M467.6 262.27V259.36M468 262.12V259.04M468.4 262.27V259.04M468.8 262.3V259.51M469.2 262.24V259.94M469.6 262.3V259.78M470 262.31V260.01M470.4 262.26V259.96M470.8 262.37V259.49M471.2 262.32V259.69M471.6 262.27V260.51M472 262.28V260.48M472.4 262.31V260.72M472.8 262.38V260.68M473.2 262.36V260.71M473.6 262.32V260.48M474 262.31V260.34M474.4 262.39V260.71M474.8 262.36V260.82M475.2 262.38V261.17M475.6 262.4V261.05M476 262.35V260.67M476.4 262.38V261.08M476.8 262.39V261.15M477.2 262.37V260.88M477.6 262.41V261.04M478 262.38V261.15M478.4 262.4V261.16M478.8 262.38V261.25M479.2 262.4V261.19M479.6 262.42V261.24M480 262.41V261.45M480.4 262.39V261.44M480.8 262.41V261.45M481.2 262.41V261.43M481.6 262.41V261.42M482 262.39V261.43M482.4 262.39V261.44M482.8 262.42V261.49M483.2 262.4V261.47M483.6 262.41V261.47M484 262.4V261.52M484.4 262.41V261.57M484.8 262.39V261.53M485.2 262.4V261.58M485.6 262.41V261.59M486 262.41V261.57M486.4 262.42V261.59M486.8 262.42V261.6M487.2 262.41V261.64M487.6 262.41V261.56M488 262.41V261.64M488.4 262.41V261.6M488.8 262.42V261.63M489.2 262.41V261.66M489.6 262.42V261.65M490 262.41V261.67M490.4 262.41V261.66M490.8 262.41V261.66M491.2 262.42V261.68M491.6 262.42V261.69M492 262.41V261.68M492.4 262.42V261.69M492.8 262.42V261.7M493.2 262.42V261.72M493.6 262.42V261.72M494 262.42V261.71M494.4 262.42V261.72M494.8 262.42V261.73M495.2 262.42V261.71M495.6 262.42V261.71M496 262.42V261.73M496.4 262.42V261.72M496.8 262.42V261.73M497.2 262.42V261.73M497.6 262.42V261.73M498 262.42V261.74M498.4 262.42V261.74M498.8 262.42V261.74M499.2 262.42V261.75M499.6 262.42V261.75M500 262.42V261.75M500.4 262.42V261.75M500.8 262.42V261.75M501.2 262.42V261.74M501.6 262.42V261.76M502 262.42V261.75M502.4 262.42V261.76M502.8 262.42V261.76M503.2 262.42V261.76M503.6 262.42V261.76M504 262.42V261.76M504.4 262.42V261.76M504.8 262.42V261.76M505.2 262.42V261.76M505.6 262.42V261.76M506 262.42V261.76M506.4 262.42V261.76M506.8 262.42V261.76M507.2 262.42V261.76M507.6 262.42V261.76M508 262.42V261.76M508.4 262.42V261.76M508.8 262.42V261.76M509.2 262.42V261.76M509.6 262.42V261.76M510 262.42V261.76M510.4 262.42V261.77" fill="none" stroke="#ffd800" stroke-width="0.95"/>
<path d="M349.4 262.2H510.45" fill="none" stroke="#ffd800" stroke-width="1.2"/>
<text x="344.2" y="233.6" font-size="11.5" text-anchor="end">1</text>
<text x="344.2" y="250" font-size="11.5" text-anchor="end">0.5</text>
<text x="344.2" y="266.4" font-size="11.5" text-anchor="end">0</text>
<text x="408.58" y="276.8" font-size="11.5" text-anchor="middle">3000</text>
<text x="467.36" y="276.8" font-size="11.5" text-anchor="middle">6000</text>
<text x="526.14" y="276.8" font-size="11.5" text-anchor="middle">9000</text>
<text x="350.29999999999995" y="217.8" font-size="11.5"><tspan font-size="14" dy="1.6">×</tspan><tspan dx="1.2" dy="-1.6">10</tspan><tspan dy="-6.8" font-size="9.5">-3</tspan></text>
<rect x="349.4" y="287.0" width="196.6" height="41.6" fill="none" stroke="#808080" stroke-width="1"/><path d="M408.38 328.6v-2.4M408.38 287.0v2.4M467.36 328.6v-2.4M467.36 287.0v2.4M526.34 328.6v-2.4M526.34 287.0v2.4M349.4 287.4h2.4M546.0 287.4h-2.4M349.4 308h2.4M546.0 308h-2.4M349.4 328.6h2.4M546.0 328.6h-2.4" stroke="#808080" stroke-width="0.9" fill="none"/>
<path d="M349.6 328.8V328.14M350 328.8V328.14M350.4 328.8V328.14M350.8 328.8V328.14M351.2 328.8V328.14M351.6 328.8V328.14M352 328.8V328.14M352.4 328.8V328.14M352.8 328.8V328.14M353.2 328.8V328.14M353.6 328.8V328.14M354 328.8V328.14M354.4 328.8V328.14M354.8 328.8V328.14M355.2 328.8V328.14M355.6 328.8V328.14M356 328.8V328.14M356.4 328.8V328.14M356.8 328.8V328.14M357.2 328.8V328.14M357.6 328.8V328.14M358 328.8V328.14M358.4 328.8V328.14M358.8 328.8V328.14M359.2 328.8V328.14M359.6 328.8V328.14M360 328.8V328.14M360.4 328.8V328.14M360.8 328.8V328.14M361.2 328.8V328.14M361.6 328.8V328.14M362 328.8V328.14M362.4 328.8V328.14M362.8 328.8V328.14M363.2 328.8V328.14M363.6 328.8V328.14M364 328.8V328.14M364.4 328.8V328.14M364.8 328.8V328.14M365.2 328.8V328.14M365.6 328.8V328.14M366 328.8V328.14M366.4 328.8V328.14M366.8 328.8V328.14M367.2 328.8V328.14M367.6 328.8V328.14M368 328.8V328.14M368.4 328.8V328.14M368.8 328.8V328.14M369.2 328.8V328.14M369.6 328.8V328.14M370 328.8V328.14M370.4 328.8V328.14M370.8 328.8V328.14M371.2 328.8V328.14M371.6 328.8V328.14M372 328.8V328.14M372.4 328.8V328.14M372.8 328.8V328.14M373.2 328.8V328.14M373.6 328.8V328.14M374 328.8V328.14M374.4 328.8V328.14M374.8 328.8V328.14M375.2 328.8V328.14M375.6 328.8V328.14M376 328.8V328.14M376.4 328.8V328.14M376.8 328.8V328.14M377.2 328.8V328.14M377.6 328.8V328.14M378 328.8V328.14M378.4 328.8V328.14M378.8 328.8V328.14M379.2 328.8V328.14M379.6 328.8V328.14M380 328.8V328.14M380.4 328.8V328.14M380.8 328.8V328.14M381.2 328.8V328.14M381.6 328.8V328.14M382 328.8V328.14M382.4 328.8V328.14M382.8 328.8V328.14M383.2 328.8V328.14M383.6 328.8V328.14M384 328.8V328.14M384.4 328.8V328.14M384.8 328.8V328.14M385.2 328.8V328.14M385.6 328.8V328.14M386 328.8V328.14M386.4 328.8V328.14M386.8 328.8V328.14M387.2 328.8V328.14M387.6 328.8V328.14M388 328.8V328.14M388.4 328.8V328.14M388.8 328.8V328.14M389.2 328.8V328.14M389.6 328.8V328.14M390 328.8V328.14M390.4 328.8V328.14M390.8 328.8V328.14M391.2 328.8V328.14M391.6 328.8V328.14M392 328.8V328.14M392.4 328.8V328.14M392.8 328.8V328.14M393.2 328.8V328.14M393.6 328.8V328.14M394 328.8V328.14M394.4 328.8V328.14M394.8 328.8V328.14M395.2 328.8V328.13M395.6 328.8V328.13M396 328.8V328.13M396.4 328.8V328.13M396.8 328.8V328.13M397.2 328.8V328.13M397.6 328.8V328.13M398 328.8V328.13M398.4 328.8V328.13M398.8 328.8V328.13M399.2 328.8V328.13M399.6 328.8V328.13M400 328.8V328.13M400.4 328.8V328.13M400.8 328.8V328.13M401.2 328.8V328.13M401.6 328.8V328.13M402 328.8V328.13M402.4 328.8V328.13M402.8 328.8V328.13M403.2 328.8V328.13M403.6 328.8V328.13M404 328.8V328.13M404.4 328.8V328.13M404.8 328.8V328.13M405.2 328.8V328.13M405.6 328.8V328.13M406 328.8V328.13M406.4 328.8V328.13M406.8 328.8V328.13M407.2 328.8V328.13M407.6 328.8V328.13M408 328.8V328.13M408.4 328.8V328.13M408.8 328.8V328.13M409.2 328.8V328.13M409.6 328.8V328.13M410 328.8V328.13M410.4 328.8V328.13M410.8 328.8V328.13M411.2 328.8V328.13M411.6 328.8V328.13M412 328.8V328.13M412.4 328.8V328.13M412.8 328.8V328.13M413.2 328.8V328.13M413.6 328.8V328.13M414 328.8V328.13M414.4 328.8V328.13M414.8 328.8V328.13M415.2 328.8V328.13M415.6 328.8V328.13M416 328.8V328.13M416.4 328.8V328.13M416.8 328.8V328.13M417.2 328.8V328.13M417.6 328.8V328.12M418 328.8V328.13M418.4 328.8V328.12M418.8 328.8V328.12M419.2 328.8V328.13M419.6 328.8V328.13M420 328.8V328.12M420.4 328.8V328.12M420.8 328.8V328.12M421.2 328.8V328.12M421.6 328.8V328.12M422 328.8V328.12M422.4 328.8V328.12M422.8 328.8V328.12M423.2 328.8V328.11M423.6 328.8V328.12M424 328.8V328.12M424.4 328.8V328.11M424.8 328.8V328.1M425.2 328.8V328.1M425.6 328.8V328.1M426 328.8V328.1M426.4 328.8V328.1M426.8 328.8V328.1M427.2 328.8V328.1M427.6 328.79V328.09M428 328.8V328.09M428.4 328.8V328.07M428.8 328.8V328.09M429.2 328.8V328.08M429.6 328.8V328.07M430 328.8V328.08M430.4 328.8V328.05M430.8 328.79V328.05M431.2 328.8V328.07M431.6 328.8V328.07M432 328.8V328.06M432.4 328.8V328.03M432.8 328.8V328.03M433.2 328.8V328.01M433.6 328.8V328.01M434 328.79V328.04M434.4 328.79V328.03M434.8 328.79V328.01M435.2 328.79V328.01M435.6 328.79V328M436 328.79V328M436.4 328.79V327.96M436.8 328.79V327.96M437.2 328.8V327.98M437.6 328.78V327.99M438 328.79V327.96M438.4 328.8V327.96M438.8 328.79V327.89M439.2 328.8V327.91M439.6 328.78V327.94M440 328.79V327.86M440.4 328.78V327.87M440.8 328.79V327.88M441.2 328.79V327.76M441.6 328.79V327.76M442 328.77V327.76M442.4 328.77V327.84M442.8 328.79V327.84M443.2 328.76V327.76M443.6 328.77V327.75M444 328.78V327.77M444.4 328.78V327.7M444.8 328.77V327.67M445.2 328.78V327.58M445.6 328.78V327.58M446 328.78V327.55M446.4 328.76V327.4M446.8 328.72V327.8M447.2 328.76V327.49M447.6 328.76V327.65M448 328.78V327.34M448.4 328.69V327.48M448.8 328.75V327.41M449.2 328.73V327.28M449.6 328.76V327.39M450 328.72V327.11M450.4 328.71V326.88M450.8 328.68V327.13M451.2 328.72V327.24M451.6 328.8V327.25M452 328.74V327.04M452.4 328.79V327.12M452.8 328.75V327.14M453.2 328.77V326.87M453.6 328.73V326.49M454 328.63V326.56M454.4 328.72V326.85M454.8 328.78V326.3M455.2 328.75V326.12M455.6 328.55V326.34M456 328.62V326.4M456.4 328.72V326.34M456.8 328.54V325.41M457.2 328.58V326.39M457.6 328.65V326.11M458 328.68V326.18M458.4 328.72V325.99M458.8 328.72V325.7M459.2 328.72V324.57M459.6 328.64V325.08M460 328.6V325.08M460.4 328.6V324.68M460.8 328.59V324.87M461.2 328.64V325M461.6 328.55V325.08M462 328.72V324.17M462.4 328.59V324.84M462.8 328.59V322.71M463.2 328.33V323.57M463.6 328.42V322.81M464 328.36V322.66M464.4 328.36V323.4M464.8 328.48V323.46M465.2 328.31V321.14M465.6 328.31V323.16M466 328.59V320.73M466.4 328.28V319.45M466.8 328.29V321.4M467.2 328.42V318.51M467.6 328.09V320.4M468 328.46V321.86M468.4 328.59V319.56M468.8 328.33V316.3M469.2 328.3V316.85M469.6 328.68V317.37M470 328.39V316.07M470.4 328.14V319.1M470.8 328.02V318.47M471.2 327.48V316.71M471.6 328.43V316.23M472 328.42V309.91M472.4 328.04V313.46M472.8 327.07V313.46M473.2 327.77V314.03M473.6 328.52V315.32M474 328.02V306.19M474.4 327.45V306.85M474.8 327.79V309.58M475.2 327.42V305.72M475.6 326.96V312.08M476 327.77V313.2M476.4 327.44V309.38M476.8 327.22V308.38M477.2 328.12V291.22M477.6 326.92V305.3M478 327.32V308.02M478.4 327.48V300.48M478.8 326.84V300.48M479.2 326.11V305.71M479.6 326.76V305.95M480 327.33V304.15M480.4 326.51V300.58M480.8 327.1V302.05M481.2 328.09V297.5M481.6 327.96V286.28M482 326.07V301.36M482.4 327.37V291.67M482.8 326.81V299.23M483.2 328.62V298.2M483.6 327.11V297.11M484 327.82V304.19M484.4 327.32V297.61M484.8 327.23V307.87M485.2 326.38V292.87M485.6 327.18V305.07M486 327.16V311.1M486.4 327.71V306.87M486.8 327.97V312.32M487.2 327.77V309.28M487.6 327.85V309M488 327.97V311.14M488.4 328.31V310.46M488.8 328.48V312.97M489.2 328.73V312.85M489.6 328.2V312.47M490 327.73V315.91M490.4 328.02V316.16M490.8 328.4V314.97M491.2 327.91V314.97M491.6 328.02V316.75M492 328.23V317.04M492.4 327.93V317.75M492.8 328.32V317.54M493.2 328.32V317.54M493.6 328.21V319.7M494 328.22V319.28M494.4 328.16V319.51M494.8 328.21V320.72M495.2 328.51V320.09M495.6 328.41V322.21M496 328.41V319.85M496.4 328.26V321.01M496.8 328.37V322.23M497.2 328.57V322.64M497.6 328.69V323.4M498 328.17V323.34M498.4 328.62V323.13M498.8 328.66V324.19M499.2 328.72V323.57M499.6 328.61V324.12M500 328.47V323.55M500.4 328.71V323.39M500.8 328.69V324.86M501.2 328.69V324.8M501.6 328.68V323.94M502 328.53V325.4M502.4 328.52V325.05M502.8 328.67V325.84M503.2 328.55V326.16M503.6 328.66V325.79M504 328.64V326.31M504.4 328.6V325.51M504.8 328.68V326.25M505.2 328.64V326.16M505.6 328.65V326.22M506 328.67V326.48M506.4 328.66V326.48M506.8 328.72V326.49M507.2 328.7V326.85M507.6 328.78V326.67M508 328.73V326.67M508.4 328.66V326.85M508.8 328.7V326.68M509.2 328.74V327.09M509.6 328.74V327.23M510 328.77V327M510.4 328.73V327.1" fill="none" stroke="#ff00ff" stroke-width="0.95"/>
<path d="M349.4 328.6H510.45" fill="none" stroke="#ff00ff" stroke-width="1.2"/>
<text x="344.2" y="291.6" font-size="11.5" text-anchor="end">1</text>
<text x="344.2" y="312.2" font-size="11.5" text-anchor="end">0.5</text>
<text x="344.2" y="332.8" font-size="11.5" text-anchor="end">0</text>
<text x="408.58" y="343.2" font-size="11.5" text-anchor="middle">3000</text>
<text x="467.36" y="343.2" font-size="11.5" text-anchor="middle">6000</text>
<text x="526.14" y="343.2" font-size="11.5" text-anchor="middle">9000</text>
<text x="350.29999999999995" y="283.8" font-size="11.5"><tspan font-size="14" dy="1.6">×</tspan><tspan dx="1.2" dy="-1.6">10</tspan><tspan dy="-6.8" font-size="9.5">-3</tspan></text>
<text x="177.0" y="14.4" font-size="13" font-weight="bold" text-anchor="middle" fill="#000">Sample</text>
<text x="447.6" y="16.2" font-size="13.6" font-weight="bold" text-anchor="middle" fill="#000">Frequency(Hz)</text>
</svg></body></html>
